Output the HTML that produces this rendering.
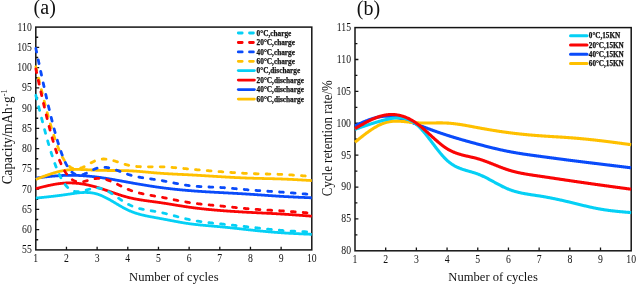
<!DOCTYPE html>
<html><head><meta charset="utf-8"><style>
html,body{margin:0;padding:0;background:#fff;width:637px;height:285px;overflow:hidden}
svg{display:block;will-change:transform}
text{font-family:"Liberation Serif",serif;fill:#111}
</style></head><body>
<svg width="637" height="285" viewBox="0 0 637 285">
<defs>
<clipPath id="ca"><rect x="34.20" y="27.10" width="278.20" height="222.80"/></clipPath>
<clipPath id="cb"><rect x="353.40" y="27.60" width="278.40" height="223.20"/></clipPath>
</defs>
<rect x="35.80" y="27.10" width="276.00" height="222.80" fill="none" stroke="#141414" stroke-width="1.50"/>
<path d="M35.80,239.77h2.40M35.80,229.65h3.40M35.80,219.52h2.40M35.80,209.39h3.40M35.80,199.26h2.40M35.80,189.14h3.40M35.80,179.01h2.40M35.80,168.88h3.40M35.80,158.75h2.40M35.80,148.63h3.40M35.80,138.50h2.40M35.80,128.37h3.40M35.80,118.25h2.40M35.80,108.12h3.40M35.80,97.99h2.40M35.80,87.86h3.40M35.80,77.74h2.40M35.80,67.61h3.40M35.80,57.48h2.40M35.80,47.35h3.40M35.80,37.23h2.40M66.47,249.90v-3.2M97.13,249.90v-3.2M127.80,249.90v-3.2M158.47,249.90v-3.2M189.13,249.90v-3.2M219.80,249.90v-3.2M250.47,249.90v-3.2M281.13,249.90v-3.2" stroke="#141414" stroke-width="1.3" fill="none"/>
<rect x="355.00" y="27.60" width="276.20" height="223.20" fill="none" stroke="#141414" stroke-width="1.50"/>
<path d="M355.00,234.86h2.40M355.00,218.91h3.40M355.00,202.97h2.40M355.00,187.03h3.40M355.00,171.09h2.40M355.00,155.14h3.40M355.00,139.20h2.40M355.00,123.26h3.40M355.00,107.31h2.40M355.00,91.37h3.40M355.00,75.43h2.40M355.00,59.49h3.40M355.00,43.54h2.40M385.69,250.80v-3.2M416.38,250.80v-3.2M447.07,250.80v-3.2M477.76,250.80v-3.2M508.44,250.80v-3.2M539.13,250.80v-3.2M569.82,250.80v-3.2M600.51,250.80v-3.2" stroke="#141414" stroke-width="1.3" fill="none"/>
<g clip-path="url(#ca)" fill="none" stroke-linejoin="round">
<path d="M35.80,198.10L36.30,198.05 36.80,198.00 37.30,197.95 37.80,197.89 38.30,197.84 38.80,197.79 39.30,197.74 39.80,197.69 40.30,197.64 40.80,197.59 41.30,197.54 41.80,197.49 42.30,197.44 42.80,197.38 43.30,197.33 43.80,197.28 44.30,197.23 44.80,197.17 45.30,197.12 45.80,197.07 46.30,197.02 46.80,196.96 47.30,196.91 47.80,196.85 48.30,196.80 48.80,196.75 49.30,196.69 49.80,196.64 50.30,196.58 50.80,196.52 51.30,196.47 51.80,196.41 52.30,196.35 52.80,196.30 53.30,196.24 53.80,196.18 54.30,196.12 54.80,196.06 55.30,196.00 55.80,195.94 56.30,195.88 56.80,195.82 57.30,195.76 57.80,195.70 58.30,195.63 58.80,195.57 59.30,195.50 59.80,195.44 60.30,195.37 60.80,195.31 61.30,195.24 61.80,195.18 62.30,195.11 62.80,195.04 63.30,194.97 63.80,194.90 64.30,194.83 64.80,194.76 65.30,194.69 65.80,194.61 66.30,194.54 66.80,194.47 67.30,194.39 67.80,194.32 68.30,194.24 68.80,194.16 69.30,194.09 69.80,194.01 70.30,193.94 70.80,193.86 71.30,193.79 71.80,193.71 72.30,193.64 72.80,193.56 73.30,193.49 73.80,193.42 74.30,193.35 74.80,193.29 75.30,193.22 75.80,193.16 76.30,193.09 76.80,193.03 77.30,192.97 77.80,192.92 78.30,192.87 78.80,192.81 79.30,192.77 79.80,192.72 80.30,192.68 80.80,192.64 81.30,192.61 81.80,192.57 82.30,192.55 82.80,192.52 83.30,192.50 83.80,192.48 84.30,192.47 84.80,192.46 85.30,192.46 85.80,192.46 86.30,192.47 86.80,192.48 87.30,192.50 87.80,192.52 88.30,192.54 88.80,192.58 89.30,192.61 89.80,192.66 90.30,192.71 90.80,192.76 91.30,192.82 91.80,192.89 92.30,192.97 92.80,193.05 93.30,193.14 93.80,193.23 94.30,193.33 94.80,193.44 95.30,193.56 95.80,193.68 96.30,193.82 96.80,193.96 97.30,194.10 97.80,194.26 98.30,194.42 98.80,194.59 99.30,194.77 99.80,194.96 100.30,195.15 100.80,195.35 101.30,195.56 101.80,195.77 102.30,195.98 102.80,196.21 103.30,196.44 103.80,196.67 104.30,196.91 104.80,197.16 105.30,197.41 105.80,197.66 106.30,197.92 106.80,198.18 107.30,198.45 107.80,198.71 108.30,198.99 108.80,199.26 109.30,199.54 109.80,199.83 110.30,200.11 110.80,200.40 111.30,200.69 111.80,200.98 112.30,201.27 112.80,201.56 113.30,201.86 113.80,202.16 114.30,202.45 114.80,202.75 115.30,203.05 115.80,203.35 116.30,203.65 116.80,203.94 117.30,204.24 117.80,204.54 118.30,204.83 118.80,205.13 119.30,205.42 119.80,205.71 120.30,206.01 120.80,206.29 121.30,206.58 121.80,206.86 122.30,207.14 122.80,207.42 123.30,207.70 123.80,207.97 124.30,208.24 124.80,208.50 125.30,208.76 125.80,209.02 126.30,209.27 126.80,209.52 127.30,209.76 127.80,210.00 128.30,210.23 128.80,210.46 129.30,210.68 129.80,210.90 130.30,211.11 130.80,211.32 131.30,211.52 131.80,211.72 132.30,211.91 132.80,212.10 133.30,212.28 133.80,212.47 134.30,212.64 134.80,212.81 135.30,212.98 135.80,213.15 136.30,213.31 136.80,213.47 137.30,213.62 137.80,213.77 138.30,213.92 138.80,214.06 139.30,214.20 139.80,214.34 140.30,214.48 140.80,214.61 141.30,214.74 141.80,214.86 142.30,214.99 142.80,215.11 143.30,215.23 143.80,215.34 144.30,215.46 144.80,215.57 145.30,215.68 145.80,215.79 146.30,215.89 146.80,216.00 147.30,216.10 147.80,216.20 148.30,216.30 148.80,216.40 149.30,216.50 149.80,216.60 150.30,216.69 150.80,216.78 151.30,216.88 151.80,216.97 152.30,217.06 152.80,217.15 153.30,217.24 153.80,217.33 154.30,217.42 154.80,217.51 155.30,217.60 155.80,217.69 156.30,217.78 156.80,217.87 157.30,217.96 157.80,218.05 158.30,218.14 158.80,218.23 159.30,218.32 159.80,218.42 160.30,218.51 160.80,218.60 161.30,218.69 161.80,218.79 162.30,218.88 162.80,218.98 163.30,219.07 163.80,219.17 164.30,219.26 164.80,219.36 165.30,219.45 165.80,219.55 166.30,219.65 166.80,219.74 167.30,219.84 167.80,219.93 168.30,220.03 168.80,220.13 169.30,220.22 169.80,220.32 170.30,220.42 170.80,220.51 171.30,220.61 171.80,220.70 172.30,220.80 172.80,220.89 173.30,220.99 173.80,221.08 174.30,221.18 174.80,221.27 175.30,221.36 175.80,221.46 176.30,221.55 176.80,221.64 177.30,221.73 177.80,221.82 178.30,221.91 178.80,222.00 179.30,222.09 179.80,222.18 180.30,222.27 180.80,222.36 181.30,222.44 181.80,222.53 182.30,222.61 182.80,222.70 183.30,222.78 183.80,222.86 184.30,222.94 184.80,223.02 185.30,223.10 185.80,223.18 186.30,223.26 186.80,223.33 187.30,223.41 187.80,223.48 188.30,223.56 188.80,223.63 189.30,223.70 189.80,223.77 190.30,223.84 190.80,223.90 191.30,223.97 191.80,224.03 192.30,224.10 192.80,224.16 193.30,224.22 193.80,224.28 194.30,224.34 194.80,224.40 195.30,224.46 195.80,224.51 196.30,224.57 196.80,224.62 197.30,224.68 197.80,224.73 198.30,224.78 198.80,224.84 199.30,224.89 199.80,224.94 200.30,224.99 200.80,225.04 201.30,225.09 201.80,225.13 202.30,225.18 202.80,225.23 203.30,225.28 203.80,225.32 204.30,225.37 204.80,225.41 205.30,225.46 205.80,225.50 206.30,225.55 206.80,225.59 207.30,225.63 207.80,225.68 208.30,225.72 208.80,225.76 209.30,225.81 209.80,225.85 210.30,225.89 210.80,225.93 211.30,225.98 211.80,226.02 212.30,226.06 212.80,226.11 213.30,226.15 213.80,226.19 214.30,226.23 214.80,226.28 215.30,226.32 215.80,226.36 216.30,226.41 216.80,226.45 217.30,226.49 217.80,226.54 218.30,226.58 218.80,226.63 219.30,226.67 219.80,226.72 220.30,226.77 220.80,226.81 221.30,226.86 221.80,226.91 222.30,226.96 222.80,227.00 223.30,227.05 223.80,227.10 224.30,227.15 224.80,227.20 225.30,227.25 225.80,227.30 226.30,227.35 226.80,227.40 227.30,227.46 227.80,227.51 228.30,227.56 228.80,227.61 229.30,227.66 229.80,227.72 230.30,227.77 230.80,227.82 231.30,227.88 231.80,227.93 232.30,227.98 232.80,228.04 233.30,228.09 233.80,228.15 234.30,228.20 234.80,228.26 235.30,228.31 235.80,228.36 236.30,228.42 236.80,228.47 237.30,228.53 237.80,228.59 238.30,228.64 238.80,228.70 239.30,228.75 239.80,228.81 240.30,228.86 240.80,228.92 241.30,228.97 241.80,229.03 242.30,229.08 242.80,229.14 243.30,229.19 243.80,229.25 244.30,229.31 244.80,229.36 245.30,229.42 245.80,229.47 246.30,229.53 246.80,229.58 247.30,229.63 247.80,229.69 248.30,229.74 248.80,229.80 249.30,229.85 249.80,229.91 250.30,229.96 250.80,230.01 251.30,230.07 251.80,230.12 252.30,230.17 252.80,230.23 253.30,230.28 253.80,230.33 254.30,230.38 254.80,230.43 255.30,230.49 255.80,230.54 256.30,230.59 256.80,230.64 257.30,230.69 257.80,230.74 258.30,230.79 258.80,230.84 259.30,230.89 259.80,230.94 260.30,230.99 260.80,231.04 261.30,231.09 261.80,231.13 262.30,231.18 262.80,231.23 263.30,231.28 263.80,231.32 264.30,231.37 264.80,231.42 265.30,231.46 265.80,231.51 266.30,231.56 266.80,231.60 267.30,231.65 267.80,231.69 268.30,231.73 268.80,231.78 269.30,231.82 269.80,231.87 270.30,231.91 270.80,231.95 271.30,231.99 271.80,232.03 272.30,232.08 272.80,232.12 273.30,232.16 273.80,232.20 274.30,232.24 274.80,232.28 275.30,232.32 275.80,232.36 276.30,232.40 276.80,232.43 277.30,232.47 277.80,232.51 278.30,232.55 278.80,232.58 279.30,232.62 279.80,232.65 280.30,232.69 280.80,232.72 281.30,232.76 281.80,232.79 282.30,232.83 282.80,232.86 283.30,232.89 283.80,232.92 284.30,232.96 284.80,232.99 285.30,233.02 285.80,233.05 286.30,233.08 286.80,233.11 287.30,233.14 287.80,233.17 288.30,233.20 288.80,233.23 289.30,233.26 289.80,233.29 290.30,233.31 290.80,233.34 291.30,233.37 291.80,233.39 292.30,233.42 292.80,233.45 293.30,233.47 293.80,233.50 294.30,233.53 294.80,233.55 295.30,233.58 295.80,233.60 296.30,233.63 296.80,233.65 297.30,233.68 297.80,233.70 298.30,233.72 298.80,233.75 299.30,233.77 299.80,233.79 300.30,233.82 300.80,233.84 301.30,233.86 301.80,233.89 302.30,233.91 302.80,233.93 303.30,233.95 303.80,233.98 304.30,234.00 304.80,234.02 305.30,234.04 305.80,234.06 306.30,234.09 306.80,234.11 307.30,234.13 307.80,234.15 308.30,234.17 308.80,234.19 309.30,234.21 309.80,234.24 310.30,234.26 310.80,234.28 311.30,234.30 311.80,234.32" stroke="#05D0F5" stroke-width="2.80"/>
<path d="M35.80,188.64L36.30,188.51 36.80,188.38 37.30,188.26 37.80,188.13 38.30,188.00 38.80,187.88 39.30,187.75 39.80,187.62 40.30,187.50 40.80,187.37 41.30,187.25 41.80,187.12 42.30,187.00 42.80,186.88 43.30,186.75 43.80,186.63 44.30,186.51 44.80,186.39 45.30,186.28 45.80,186.16 46.30,186.04 46.80,185.93 47.30,185.82 47.80,185.70 48.30,185.59 48.80,185.48 49.30,185.38 49.80,185.27 50.30,185.16 50.80,185.06 51.30,184.96 51.80,184.86 52.30,184.76 52.80,184.67 53.30,184.57 53.80,184.48 54.30,184.39 54.80,184.30 55.30,184.22 55.80,184.13 56.30,184.05 56.80,183.97 57.30,183.90 57.80,183.82 58.30,183.75 58.80,183.68 59.30,183.62 59.80,183.55 60.30,183.49 60.80,183.44 61.30,183.38 61.80,183.33 62.30,183.28 62.80,183.23 63.30,183.19 63.80,183.15 64.30,183.11 64.80,183.08 65.30,183.05 65.80,183.02 66.30,183.00 66.80,182.98 67.30,182.96 67.80,182.95 68.30,182.94 68.80,182.93 69.30,182.93 69.80,182.93 70.30,182.93 70.80,182.94 71.30,182.95 71.80,182.96 72.30,182.98 72.80,183.00 73.30,183.03 73.80,183.05 74.30,183.08 74.80,183.11 75.30,183.15 75.80,183.19 76.30,183.23 76.80,183.27 77.30,183.32 77.80,183.37 78.30,183.43 78.80,183.48 79.30,183.54 79.80,183.61 80.30,183.67 80.80,183.74 81.30,183.81 81.80,183.88 82.30,183.96 82.80,184.04 83.30,184.12 83.80,184.21 84.30,184.29 84.80,184.38 85.30,184.48 85.80,184.57 86.30,184.67 86.80,184.77 87.30,184.87 87.80,184.97 88.30,185.08 88.80,185.19 89.30,185.30 89.80,185.42 90.30,185.54 90.80,185.66 91.30,185.78 91.80,185.90 92.30,186.03 92.80,186.16 93.30,186.29 93.80,186.42 94.30,186.55 94.80,186.69 95.30,186.83 95.80,186.97 96.30,187.11 96.80,187.26 97.30,187.41 97.80,187.56 98.30,187.71 98.80,187.86 99.30,188.01 99.80,188.17 100.30,188.33 100.80,188.49 101.30,188.65 101.80,188.81 102.30,188.97 102.80,189.14 103.30,189.31 103.80,189.47 104.30,189.64 104.80,189.81 105.30,189.98 105.80,190.15 106.30,190.32 106.80,190.49 107.30,190.67 107.80,190.84 108.30,191.01 108.80,191.18 109.30,191.36 109.80,191.53 110.30,191.71 110.80,191.88 111.30,192.05 111.80,192.23 112.30,192.40 112.80,192.58 113.30,192.75 113.80,192.92 114.30,193.09 114.80,193.27 115.30,193.44 115.80,193.61 116.30,193.78 116.80,193.94 117.30,194.11 117.80,194.28 118.30,194.44 118.80,194.61 119.30,194.77 119.80,194.93 120.30,195.09 120.80,195.25 121.30,195.41 121.80,195.57 122.30,195.72 122.80,195.87 123.30,196.02 123.80,196.17 124.30,196.32 124.80,196.46 125.30,196.60 125.80,196.74 126.30,196.88 126.80,197.02 127.30,197.15 127.80,197.28 128.30,197.41 128.80,197.53 129.30,197.66 129.80,197.78 130.30,197.89 130.80,198.01 131.30,198.12 131.80,198.23 132.30,198.34 132.80,198.45 133.30,198.55 133.80,198.66 134.30,198.76 134.80,198.86 135.30,198.95 135.80,199.05 136.30,199.14 136.80,199.23 137.30,199.32 137.80,199.41 138.30,199.50 138.80,199.59 139.30,199.67 139.80,199.75 140.30,199.84 140.80,199.92 141.30,199.99 141.80,200.07 142.30,200.15 142.80,200.23 143.30,200.30 143.80,200.37 144.30,200.45 144.80,200.52 145.30,200.59 145.80,200.66 146.30,200.73 146.80,200.80 147.30,200.87 147.80,200.94 148.30,201.01 148.80,201.08 149.30,201.14 149.80,201.21 150.30,201.28 150.80,201.34 151.30,201.41 151.80,201.48 152.30,201.54 152.80,201.61 153.30,201.68 153.80,201.74 154.30,201.81 154.80,201.88 155.30,201.94 155.80,202.01 156.30,202.08 156.80,202.15 157.30,202.22 157.80,202.29 158.30,202.36 158.80,202.43 159.30,202.50 159.80,202.57 160.30,202.65 160.80,202.72 161.30,202.79 161.80,202.87 162.30,202.94 162.80,203.02 163.30,203.10 163.80,203.17 164.30,203.25 164.80,203.33 165.30,203.41 165.80,203.49 166.30,203.56 166.80,203.64 167.30,203.72 167.80,203.80 168.30,203.88 168.80,203.96 169.30,204.04 169.80,204.13 170.30,204.21 170.80,204.29 171.30,204.37 171.80,204.45 172.30,204.53 172.80,204.61 173.30,204.70 173.80,204.78 174.30,204.86 174.80,204.94 175.30,205.02 175.80,205.10 176.30,205.18 176.80,205.27 177.30,205.35 177.80,205.43 178.30,205.51 178.80,205.59 179.30,205.67 179.80,205.75 180.30,205.83 180.80,205.91 181.30,205.99 181.80,206.07 182.30,206.15 182.80,206.23 183.30,206.30 183.80,206.38 184.30,206.46 184.80,206.53 185.30,206.61 185.80,206.69 186.30,206.76 186.80,206.84 187.30,206.91 187.80,206.98 188.30,207.05 188.80,207.13 189.30,207.20 189.80,207.27 190.30,207.34 190.80,207.41 191.30,207.48 191.80,207.54 192.30,207.61 192.80,207.68 193.30,207.74 193.80,207.81 194.30,207.87 194.80,207.94 195.30,208.00 195.80,208.06 196.30,208.12 196.80,208.18 197.30,208.25 197.80,208.31 198.30,208.36 198.80,208.42 199.30,208.48 199.80,208.54 200.30,208.60 200.80,208.65 201.30,208.71 201.80,208.77 202.30,208.82 202.80,208.88 203.30,208.93 203.80,208.98 204.30,209.04 204.80,209.09 205.30,209.14 205.80,209.19 206.30,209.24 206.80,209.29 207.30,209.34 207.80,209.39 208.30,209.44 208.80,209.49 209.30,209.54 209.80,209.59 210.30,209.63 210.80,209.68 211.30,209.73 211.80,209.77 212.30,209.82 212.80,209.86 213.30,209.91 213.80,209.95 214.30,210.00 214.80,210.04 215.30,210.08 215.80,210.13 216.30,210.17 216.80,210.21 217.30,210.25 217.80,210.29 218.30,210.34 218.80,210.38 219.30,210.42 219.80,210.46 220.30,210.50 220.80,210.54 221.30,210.57 221.80,210.61 222.30,210.65 222.80,210.69 223.30,210.73 223.80,210.77 224.30,210.80 224.80,210.84 225.30,210.88 225.80,210.91 226.30,210.95 226.80,210.99 227.30,211.02 227.80,211.06 228.30,211.09 228.80,211.13 229.30,211.16 229.80,211.20 230.30,211.23 230.80,211.26 231.30,211.30 231.80,211.33 232.30,211.36 232.80,211.40 233.30,211.43 233.80,211.46 234.30,211.49 234.80,211.52 235.30,211.56 235.80,211.59 236.30,211.62 236.80,211.65 237.30,211.68 237.80,211.71 238.30,211.74 238.80,211.77 239.30,211.80 239.80,211.83 240.30,211.86 240.80,211.89 241.30,211.92 241.80,211.95 242.30,211.98 242.80,212.00 243.30,212.03 243.80,212.06 244.30,212.09 244.80,212.12 245.30,212.14 245.80,212.17 246.30,212.20 246.80,212.23 247.30,212.25 247.80,212.28 248.30,212.31 248.80,212.33 249.30,212.36 249.80,212.39 250.30,212.41 250.80,212.44 251.30,212.46 251.80,212.49 252.30,212.51 252.80,212.54 253.30,212.57 253.80,212.59 254.30,212.62 254.80,212.64 255.30,212.67 255.80,212.69 256.30,212.71 256.80,212.74 257.30,212.76 257.80,212.79 258.30,212.81 258.80,212.84 259.30,212.86 259.80,212.89 260.30,212.91 260.80,212.94 261.30,212.96 261.80,212.98 262.30,213.01 262.80,213.03 263.30,213.06 263.80,213.08 264.30,213.11 264.80,213.13 265.30,213.16 265.80,213.18 266.30,213.21 266.80,213.23 267.30,213.26 267.80,213.28 268.30,213.31 268.80,213.33 269.30,213.36 269.80,213.38 270.30,213.41 270.80,213.43 271.30,213.46 271.80,213.48 272.30,213.51 272.80,213.54 273.30,213.56 273.80,213.59 274.30,213.62 274.80,213.64 275.30,213.67 275.80,213.70 276.30,213.73 276.80,213.75 277.30,213.78 277.80,213.81 278.30,213.84 278.80,213.87 279.30,213.90 279.80,213.93 280.30,213.95 280.80,213.98 281.30,214.01 281.80,214.04 282.30,214.07 282.80,214.11 283.30,214.14 283.80,214.17 284.30,214.20 284.80,214.23 285.30,214.26 285.80,214.30 286.30,214.33 286.80,214.36 287.30,214.39 287.80,214.43 288.30,214.46 288.80,214.49 289.30,214.53 289.80,214.56 290.30,214.60 290.80,214.63 291.30,214.66 291.80,214.70 292.30,214.73 292.80,214.77 293.30,214.80 293.80,214.84 294.30,214.88 294.80,214.91 295.30,214.95 295.80,214.98 296.30,215.02 296.80,215.06 297.30,215.09 297.80,215.13 298.30,215.17 298.80,215.20 299.30,215.24 299.80,215.28 300.30,215.31 300.80,215.35 301.30,215.39 301.80,215.43 302.30,215.46 302.80,215.50 303.30,215.54 303.80,215.58 304.30,215.61 304.80,215.65 305.30,215.69 305.80,215.73 306.30,215.77 306.80,215.80 307.30,215.84 307.80,215.88 308.30,215.92 308.80,215.96 309.30,216.00 309.80,216.03 310.30,216.07 310.80,216.11 311.30,216.15 311.80,216.19" stroke="#FA0505" stroke-width="2.80"/>
<path d="M35.80,178.01L36.30,177.95 36.80,177.89 37.30,177.83 37.80,177.78 38.30,177.72 38.80,177.66 39.30,177.60 39.80,177.54 40.30,177.49 40.80,177.43 41.30,177.37 41.80,177.32 42.30,177.26 42.80,177.20 43.30,177.15 43.80,177.09 44.30,177.04 44.80,176.98 45.30,176.93 45.80,176.88 46.30,176.82 46.80,176.77 47.30,176.72 47.80,176.67 48.30,176.61 48.80,176.56 49.30,176.51 49.80,176.47 50.30,176.42 50.80,176.37 51.30,176.32 51.80,176.28 52.30,176.23 52.80,176.19 53.30,176.14 53.80,176.10 54.30,176.06 54.80,176.02 55.30,175.97 55.80,175.94 56.30,175.90 56.80,175.86 57.30,175.82 57.80,175.79 58.30,175.75 58.80,175.72 59.30,175.69 59.80,175.66 60.30,175.63 60.80,175.60 61.30,175.57 61.80,175.55 62.30,175.52 62.80,175.50 63.30,175.47 63.80,175.45 64.30,175.43 64.80,175.42 65.30,175.40 65.80,175.38 66.30,175.37 66.80,175.36 67.30,175.35 67.80,175.34 68.30,175.33 68.80,175.32 69.30,175.32 69.80,175.31 70.30,175.31 70.80,175.31 71.30,175.31 71.80,175.31 72.30,175.32 72.80,175.32 73.30,175.33 73.80,175.34 74.30,175.35 74.80,175.36 75.30,175.37 75.80,175.38 76.30,175.40 76.80,175.41 77.30,175.43 77.80,175.45 78.30,175.47 78.80,175.49 79.30,175.51 79.80,175.53 80.30,175.56 80.80,175.59 81.30,175.61 81.80,175.64 82.30,175.67 82.80,175.70 83.30,175.73 83.80,175.77 84.30,175.80 84.80,175.84 85.30,175.88 85.80,175.92 86.30,175.95 86.80,176.00 87.30,176.04 87.80,176.08 88.30,176.13 88.80,176.17 89.30,176.22 89.80,176.27 90.30,176.31 90.80,176.36 91.30,176.41 91.80,176.47 92.30,176.52 92.80,176.57 93.30,176.63 93.80,176.69 94.30,176.74 94.80,176.80 95.30,176.86 95.80,176.92 96.30,176.98 96.80,177.05 97.30,177.11 97.80,177.18 98.30,177.24 98.80,177.31 99.30,177.38 99.80,177.44 100.30,177.51 100.80,177.58 101.30,177.65 101.80,177.73 102.30,177.80 102.80,177.87 103.30,177.95 103.80,178.02 104.30,178.10 104.80,178.18 105.30,178.25 105.80,178.33 106.30,178.41 106.80,178.49 107.30,178.57 107.80,178.65 108.30,178.73 108.80,178.81 109.30,178.90 109.80,178.98 110.30,179.06 110.80,179.15 111.30,179.23 111.80,179.32 112.30,179.40 112.80,179.49 113.30,179.58 113.80,179.66 114.30,179.75 114.80,179.84 115.30,179.93 115.80,180.01 116.30,180.10 116.80,180.19 117.30,180.28 117.80,180.37 118.30,180.46 118.80,180.55 119.30,180.64 119.80,180.73 120.30,180.82 120.80,180.91 121.30,181.00 121.80,181.09 122.30,181.18 122.80,181.27 123.30,181.37 123.80,181.46 124.30,181.55 124.80,181.64 125.30,181.73 125.80,181.82 126.30,181.91 126.80,182.00 127.30,182.09 127.80,182.19 128.30,182.28 128.80,182.37 129.30,182.46 129.80,182.55 130.30,182.64 130.80,182.73 131.30,182.82 131.80,182.91 132.30,183.00 132.80,183.08 133.30,183.17 133.80,183.26 134.30,183.35 134.80,183.44 135.30,183.53 135.80,183.61 136.30,183.70 136.80,183.79 137.30,183.88 137.80,183.96 138.30,184.05 138.80,184.14 139.30,184.22 139.80,184.31 140.30,184.39 140.80,184.48 141.30,184.56 141.80,184.65 142.30,184.73 142.80,184.82 143.30,184.90 143.80,184.98 144.30,185.07 144.80,185.15 145.30,185.23 145.80,185.31 146.30,185.39 146.80,185.48 147.30,185.56 147.80,185.64 148.30,185.72 148.80,185.80 149.30,185.87 149.80,185.95 150.30,186.03 150.80,186.11 151.30,186.19 151.80,186.26 152.30,186.34 152.80,186.42 153.30,186.49 153.80,186.57 154.30,186.64 154.80,186.71 155.30,186.79 155.80,186.86 156.30,186.93 156.80,187.01 157.30,187.08 157.80,187.15 158.30,187.22 158.80,187.29 159.30,187.36 159.80,187.43 160.30,187.49 160.80,187.56 161.30,187.63 161.80,187.70 162.30,187.76 162.80,187.83 163.30,187.89 163.80,187.96 164.30,188.02 164.80,188.08 165.30,188.15 165.80,188.21 166.30,188.27 166.80,188.33 167.30,188.39 167.80,188.45 168.30,188.51 168.80,188.57 169.30,188.63 169.80,188.69 170.30,188.75 170.80,188.80 171.30,188.86 171.80,188.92 172.30,188.97 172.80,189.03 173.30,189.08 173.80,189.14 174.30,189.19 174.80,189.25 175.30,189.30 175.80,189.35 176.30,189.40 176.80,189.46 177.30,189.51 177.80,189.56 178.30,189.61 178.80,189.66 179.30,189.71 179.80,189.76 180.30,189.80 180.80,189.85 181.30,189.90 181.80,189.95 182.30,189.99 182.80,190.04 183.30,190.08 183.80,190.13 184.30,190.18 184.80,190.22 185.30,190.26 185.80,190.31 186.30,190.35 186.80,190.39 187.30,190.44 187.80,190.48 188.30,190.52 188.80,190.56 189.30,190.60 189.80,190.64 190.30,190.68 190.80,190.72 191.30,190.76 191.80,190.80 192.30,190.84 192.80,190.88 193.30,190.91 193.80,190.95 194.30,190.99 194.80,191.03 195.30,191.06 195.80,191.10 196.30,191.13 196.80,191.17 197.30,191.20 197.80,191.24 198.30,191.27 198.80,191.31 199.30,191.34 199.80,191.37 200.30,191.41 200.80,191.44 201.30,191.47 201.80,191.51 202.30,191.54 202.80,191.57 203.30,191.60 203.80,191.63 204.30,191.66 204.80,191.70 205.30,191.73 205.80,191.76 206.30,191.79 206.80,191.82 207.30,191.85 207.80,191.88 208.30,191.91 208.80,191.94 209.30,191.97 209.80,191.99 210.30,192.02 210.80,192.05 211.30,192.08 211.80,192.11 212.30,192.14 212.80,192.17 213.30,192.19 213.80,192.22 214.30,192.25 214.80,192.28 215.30,192.30 215.80,192.33 216.30,192.36 216.80,192.39 217.30,192.41 217.80,192.44 218.30,192.47 218.80,192.49 219.30,192.52 219.80,192.55 220.30,192.57 220.80,192.60 221.30,192.63 221.80,192.65 222.30,192.68 222.80,192.71 223.30,192.73 223.80,192.76 224.30,192.79 224.80,192.81 225.30,192.84 225.80,192.87 226.30,192.89 226.80,192.92 227.30,192.95 227.80,192.97 228.30,193.00 228.80,193.03 229.30,193.05 229.80,193.08 230.30,193.11 230.80,193.13 231.30,193.16 231.80,193.19 232.30,193.21 232.80,193.24 233.30,193.27 233.80,193.29 234.30,193.32 234.80,193.35 235.30,193.38 235.80,193.40 236.30,193.43 236.80,193.46 237.30,193.49 237.80,193.52 238.30,193.54 238.80,193.57 239.30,193.60 239.80,193.63 240.30,193.66 240.80,193.68 241.30,193.71 241.80,193.74 242.30,193.77 242.80,193.80 243.30,193.83 243.80,193.86 244.30,193.89 244.80,193.92 245.30,193.95 245.80,193.98 246.30,194.01 246.80,194.04 247.30,194.07 247.80,194.10 248.30,194.13 248.80,194.16 249.30,194.20 249.80,194.23 250.30,194.26 250.80,194.29 251.30,194.32 251.80,194.36 252.30,194.39 252.80,194.42 253.30,194.46 253.80,194.49 254.30,194.52 254.80,194.56 255.30,194.59 255.80,194.62 256.30,194.66 256.80,194.69 257.30,194.73 257.80,194.76 258.30,194.80 258.80,194.83 259.30,194.87 259.80,194.90 260.30,194.94 260.80,194.97 261.30,195.01 261.80,195.04 262.30,195.08 262.80,195.11 263.30,195.15 263.80,195.18 264.30,195.22 264.80,195.25 265.30,195.29 265.80,195.32 266.30,195.36 266.80,195.39 267.30,195.43 267.80,195.46 268.30,195.50 268.80,195.53 269.30,195.57 269.80,195.60 270.30,195.64 270.80,195.67 271.30,195.71 271.80,195.74 272.30,195.77 272.80,195.81 273.30,195.84 273.80,195.87 274.30,195.91 274.80,195.94 275.30,195.97 275.80,196.01 276.30,196.04 276.80,196.07 277.30,196.10 277.80,196.14 278.30,196.17 278.80,196.20 279.30,196.23 279.80,196.26 280.30,196.29 280.80,196.32 281.30,196.35 281.80,196.38 282.30,196.41 282.80,196.44 283.30,196.47 283.80,196.50 284.30,196.53 284.80,196.55 285.30,196.58 285.80,196.61 286.30,196.64 286.80,196.66 287.30,196.69 287.80,196.72 288.30,196.74 288.80,196.77 289.30,196.80 289.80,196.82 290.30,196.85 290.80,196.87 291.30,196.90 291.80,196.92 292.30,196.95 292.80,196.97 293.30,197.00 293.80,197.02 294.30,197.04 294.80,197.07 295.30,197.09 295.80,197.12 296.30,197.14 296.80,197.16 297.30,197.19 297.80,197.21 298.30,197.23 298.80,197.25 299.30,197.28 299.80,197.30 300.30,197.32 300.80,197.34 301.30,197.36 301.80,197.39 302.30,197.41 302.80,197.43 303.30,197.45 303.80,197.47 304.30,197.49 304.80,197.52 305.30,197.54 305.80,197.56 306.30,197.58 306.80,197.60 307.30,197.62 307.80,197.64 308.30,197.66 308.80,197.69 309.30,197.71 309.80,197.73 310.30,197.75 310.80,197.77 311.30,197.79 311.80,197.81" stroke="#0A4BFA" stroke-width="2.80"/>
<path d="M35.80,179.41L36.30,179.22 36.80,179.02 37.30,178.83 37.80,178.63 38.30,178.44 38.80,178.25 39.30,178.06 39.80,177.86 40.30,177.67 40.80,177.48 41.30,177.29 41.80,177.10 42.30,176.92 42.80,176.73 43.30,176.54 43.80,176.36 44.30,176.17 44.80,175.99 45.30,175.81 45.80,175.62 46.30,175.44 46.80,175.27 47.30,175.09 47.80,174.91 48.30,174.74 48.80,174.57 49.30,174.40 49.80,174.23 50.30,174.06 50.80,173.90 51.30,173.74 51.80,173.58 52.30,173.42 52.80,173.26 53.30,173.11 53.80,172.96 54.30,172.81 54.80,172.66 55.30,172.51 55.80,172.37 56.30,172.23 56.80,172.10 57.30,171.96 57.80,171.83 58.30,171.71 58.80,171.58 59.30,171.46 59.80,171.34 60.30,171.23 60.80,171.11 61.30,171.01 61.80,170.90 62.30,170.80 62.80,170.70 63.30,170.61 63.80,170.52 64.30,170.43 64.80,170.35 65.30,170.27 65.80,170.19 66.30,170.12 66.80,170.05 67.30,169.99 67.80,169.93 68.30,169.87 68.80,169.82 69.30,169.77 69.80,169.73 70.30,169.69 70.80,169.65 71.30,169.61 71.80,169.58 72.30,169.56 72.80,169.53 73.30,169.51 73.80,169.49 74.30,169.47 74.80,169.46 75.30,169.45 75.80,169.44 76.30,169.44 76.80,169.43 77.30,169.43 77.80,169.43 78.30,169.44 78.80,169.44 79.30,169.45 79.80,169.46 80.30,169.47 80.80,169.48 81.30,169.50 81.80,169.51 82.30,169.53 82.80,169.55 83.30,169.57 83.80,169.59 84.30,169.61 84.80,169.63 85.30,169.66 85.80,169.68 86.30,169.71 86.80,169.73 87.30,169.76 87.80,169.79 88.30,169.82 88.80,169.84 89.30,169.87 89.80,169.90 90.30,169.93 90.80,169.96 91.30,169.98 91.80,170.01 92.30,170.04 92.80,170.07 93.30,170.09 93.80,170.12 94.30,170.15 94.80,170.17 95.30,170.20 95.80,170.22 96.30,170.24 96.80,170.26 97.30,170.28 97.80,170.30 98.30,170.32 98.80,170.33 99.30,170.35 99.80,170.36 100.30,170.38 100.80,170.39 101.30,170.40 101.80,170.41 102.30,170.42 102.80,170.43 103.30,170.44 103.80,170.44 104.30,170.45 104.80,170.46 105.30,170.46 105.80,170.47 106.30,170.47 106.80,170.47 107.30,170.48 107.80,170.48 108.30,170.48 108.80,170.48 109.30,170.49 109.80,170.49 110.30,170.49 110.80,170.49 111.30,170.49 111.80,170.49 112.30,170.49 112.80,170.49 113.30,170.50 113.80,170.50 114.30,170.50 114.80,170.50 115.30,170.50 115.80,170.50 116.30,170.50 116.80,170.51 117.30,170.51 117.80,170.51 118.30,170.52 118.80,170.52 119.30,170.52 119.80,170.53 120.30,170.54 120.80,170.54 121.30,170.55 121.80,170.56 122.30,170.57 122.80,170.57 123.30,170.59 123.80,170.60 124.30,170.61 124.80,170.62 125.30,170.64 125.80,170.65 126.30,170.67 126.80,170.68 127.30,170.70 127.80,170.72 128.30,170.74 128.80,170.76 129.30,170.79 129.80,170.81 130.30,170.84 130.80,170.86 131.30,170.89 131.80,170.92 132.30,170.95 132.80,170.98 133.30,171.01 133.80,171.05 134.30,171.08 134.80,171.11 135.30,171.15 135.80,171.18 136.30,171.22 136.80,171.26 137.30,171.30 137.80,171.34 138.30,171.37 138.80,171.41 139.30,171.45 139.80,171.50 140.30,171.54 140.80,171.58 141.30,171.62 141.80,171.66 142.30,171.71 142.80,171.75 143.30,171.80 143.80,171.84 144.30,171.88 144.80,171.93 145.30,171.97 145.80,172.02 146.30,172.06 146.80,172.11 147.30,172.15 147.80,172.20 148.30,172.25 148.80,172.29 149.30,172.34 149.80,172.38 150.30,172.43 150.80,172.47 151.30,172.52 151.80,172.56 152.30,172.60 152.80,172.65 153.30,172.69 153.80,172.74 154.30,172.78 154.80,172.82 155.30,172.86 155.80,172.91 156.30,172.95 156.80,172.99 157.30,173.03 157.80,173.07 158.30,173.11 158.80,173.14 159.30,173.18 159.80,173.22 160.30,173.26 160.80,173.29 161.30,173.33 161.80,173.36 162.30,173.40 162.80,173.43 163.30,173.46 163.80,173.50 164.30,173.53 164.80,173.56 165.30,173.59 165.80,173.62 166.30,173.65 166.80,173.68 167.30,173.71 167.80,173.74 168.30,173.77 168.80,173.80 169.30,173.82 169.80,173.85 170.30,173.88 170.80,173.91 171.30,173.93 171.80,173.96 172.30,173.99 172.80,174.01 173.30,174.04 173.80,174.06 174.30,174.09 174.80,174.11 175.30,174.14 175.80,174.16 176.30,174.19 176.80,174.21 177.30,174.24 177.80,174.26 178.30,174.28 178.80,174.31 179.30,174.33 179.80,174.36 180.30,174.38 180.80,174.40 181.30,174.43 181.80,174.45 182.30,174.48 182.80,174.50 183.30,174.52 183.80,174.55 184.30,174.57 184.80,174.60 185.30,174.62 185.80,174.65 186.30,174.67 186.80,174.70 187.30,174.72 187.80,174.75 188.30,174.77 188.80,174.80 189.30,174.82 189.80,174.85 190.30,174.88 190.80,174.90 191.30,174.93 191.80,174.96 192.30,174.99 192.80,175.01 193.30,175.04 193.80,175.07 194.30,175.10 194.80,175.13 195.30,175.16 195.80,175.18 196.30,175.21 196.80,175.24 197.30,175.27 197.80,175.30 198.30,175.33 198.80,175.36 199.30,175.39 199.80,175.42 200.30,175.45 200.80,175.48 201.30,175.51 201.80,175.54 202.30,175.57 202.80,175.60 203.30,175.64 203.80,175.67 204.30,175.70 204.80,175.73 205.30,175.76 205.80,175.79 206.30,175.82 206.80,175.85 207.30,175.88 207.80,175.92 208.30,175.95 208.80,175.98 209.30,176.01 209.80,176.04 210.30,176.07 210.80,176.10 211.30,176.14 211.80,176.17 212.30,176.20 212.80,176.23 213.30,176.26 213.80,176.29 214.30,176.32 214.80,176.36 215.30,176.39 215.80,176.42 216.30,176.45 216.80,176.48 217.30,176.51 217.80,176.54 218.30,176.57 218.80,176.60 219.30,176.63 219.80,176.66 220.30,176.69 220.80,176.72 221.30,176.75 221.80,176.78 222.30,176.81 222.80,176.84 223.30,176.87 223.80,176.90 224.30,176.93 224.80,176.96 225.30,176.99 225.80,177.02 226.30,177.05 226.80,177.08 227.30,177.10 227.80,177.13 228.30,177.16 228.80,177.19 229.30,177.22 229.80,177.24 230.30,177.27 230.80,177.30 231.30,177.32 231.80,177.35 232.30,177.38 232.80,177.40 233.30,177.43 233.80,177.46 234.30,177.48 234.80,177.51 235.30,177.53 235.80,177.56 236.30,177.58 236.80,177.61 237.30,177.63 237.80,177.65 238.30,177.68 238.80,177.70 239.30,177.72 239.80,177.75 240.30,177.77 240.80,177.79 241.30,177.81 241.80,177.84 242.30,177.86 242.80,177.88 243.30,177.90 243.80,177.92 244.30,177.94 244.80,177.96 245.30,177.98 245.80,178.00 246.30,178.02 246.80,178.04 247.30,178.06 247.80,178.08 248.30,178.09 248.80,178.11 249.30,178.13 249.80,178.14 250.30,178.16 250.80,178.18 251.30,178.19 251.80,178.21 252.30,178.22 252.80,178.24 253.30,178.25 253.80,178.27 254.30,178.28 254.80,178.30 255.30,178.31 255.80,178.32 256.30,178.34 256.80,178.35 257.30,178.36 257.80,178.37 258.30,178.39 258.80,178.40 259.30,178.41 259.80,178.42 260.30,178.43 260.80,178.45 261.30,178.46 261.80,178.47 262.30,178.48 262.80,178.49 263.30,178.50 263.80,178.51 264.30,178.53 264.80,178.54 265.30,178.55 265.80,178.56 266.30,178.57 266.80,178.58 267.30,178.59 267.80,178.61 268.30,178.62 268.80,178.63 269.30,178.64 269.80,178.65 270.30,178.66 270.80,178.68 271.30,178.69 271.80,178.70 272.30,178.71 272.80,178.73 273.30,178.74 273.80,178.75 274.30,178.77 274.80,178.78 275.30,178.79 275.80,178.81 276.30,178.82 276.80,178.84 277.30,178.85 277.80,178.87 278.30,178.88 278.80,178.90 279.30,178.92 279.80,178.93 280.30,178.95 280.80,178.97 281.30,178.99 281.80,179.00 282.30,179.02 282.80,179.04 283.30,179.06 283.80,179.08 284.30,179.10 284.80,179.12 285.30,179.14 285.80,179.16 286.30,179.19 286.80,179.21 287.30,179.23 287.80,179.25 288.30,179.27 288.80,179.30 289.30,179.32 289.80,179.35 290.30,179.37 290.80,179.39 291.30,179.42 291.80,179.44 292.30,179.47 292.80,179.49 293.30,179.52 293.80,179.55 294.30,179.57 294.80,179.60 295.30,179.62 295.80,179.65 296.30,179.68 296.80,179.71 297.30,179.73 297.80,179.76 298.30,179.79 298.80,179.82 299.30,179.85 299.80,179.87 300.30,179.90 300.80,179.93 301.30,179.96 301.80,179.99 302.30,180.02 302.80,180.05 303.30,180.08 303.80,180.11 304.30,180.13 304.80,180.16 305.30,180.19 305.80,180.22 306.30,180.25 306.80,180.28 307.30,180.31 307.80,180.34 308.30,180.37 308.80,180.40 309.30,180.43 309.80,180.46 310.30,180.49 310.80,180.53 311.30,180.56 311.80,180.59" stroke="#FFC000" stroke-width="2.80"/>
<path d="M35.80,95.30L36.30,97.30 36.80,99.30 37.30,101.29 37.80,103.29 38.30,105.28 38.80,107.26 39.30,109.24 39.80,111.21 40.30,113.18 40.80,115.14 41.30,117.09 41.80,119.03 42.30,120.96 42.80,122.88 43.30,124.79 43.80,126.69 44.30,128.57 44.80,130.44 45.30,132.29 45.80,134.12 46.30,135.94 46.80,137.74 47.30,139.53 47.80,141.29 48.30,143.03 48.80,144.75 49.30,146.45 49.80,148.13 50.30,149.78 50.80,151.41 51.30,153.01 51.80,154.59 52.30,156.14 52.80,157.66 53.30,159.15 53.80,160.62 54.30,162.05 54.80,163.45 55.30,164.82 55.80,166.15 56.30,167.45 56.80,168.72 57.30,169.95 57.80,171.15 58.30,172.30 58.80,173.43 59.30,174.51 59.80,175.56 60.30,176.57 60.80,177.55 61.30,178.50 61.80,179.40 62.30,180.27 62.80,181.11 63.30,181.91 63.80,182.68 64.30,183.41 64.80,184.11 65.30,184.77 65.80,185.39 66.30,185.99 66.80,186.54 67.30,187.07 67.80,187.56 68.30,188.02 68.80,188.45 69.30,188.85 69.80,189.21 70.30,189.55 70.80,189.86 71.30,190.15 71.80,190.40 72.30,190.64 72.80,190.84 73.30,191.03 73.80,191.19 74.30,191.32 74.80,191.44 75.30,191.54 75.80,191.61 76.30,191.67 76.80,191.71 77.30,191.73 77.80,191.74 78.30,191.73 78.80,191.70 79.30,191.66 79.80,191.61 80.30,191.55 80.80,191.47 81.30,191.38 81.80,191.29 82.30,191.18 82.80,191.07 83.30,190.95 83.80,190.82 84.30,190.69 84.80,190.55 85.30,190.41 85.80,190.26 86.30,190.11 86.80,189.97 87.30,189.82 87.80,189.67 88.30,189.52 88.80,189.37 89.30,189.22 89.80,189.08 90.30,188.95 90.80,188.81 91.30,188.69 91.80,188.57 92.30,188.46 92.80,188.35 93.30,188.26 93.80,188.17 94.30,188.10 94.80,188.04 95.30,187.99 95.80,187.95 96.30,187.93 96.80,187.92 97.30,187.93 97.80,187.95 98.30,187.99 98.80,188.05 99.30,188.12 99.80,188.20 100.30,188.30 100.80,188.42 101.30,188.54 101.80,188.68 102.30,188.84 102.80,189.00 103.30,189.18 103.80,189.36 104.30,189.56 104.80,189.77 105.30,189.99 105.80,190.22 106.30,190.46 106.80,190.71 107.30,190.97 107.80,191.23 108.30,191.50 108.80,191.79 109.30,192.07 109.80,192.37 110.30,192.67 110.80,192.97 111.30,193.29 111.80,193.60 112.30,193.93 112.80,194.25 113.30,194.58 113.80,194.92 114.30,195.25 114.80,195.59 115.30,195.93 115.80,196.28 116.30,196.62 116.80,196.97 117.30,197.32 117.80,197.66 118.30,198.01 118.80,198.36 119.30,198.70 119.80,199.05 120.30,199.39 120.80,199.73 121.30,200.07 121.80,200.41 122.30,200.74 122.80,201.07 123.30,201.40 123.80,201.72 124.30,202.04 124.80,202.35 125.30,202.65 125.80,202.95 126.30,203.25 126.80,203.53 127.30,203.81 127.80,204.08 128.30,204.35 128.80,204.60 129.30,204.85 129.80,205.09 130.30,205.33 130.80,205.56 131.30,205.78 131.80,205.99 132.30,206.20 132.80,206.40 133.30,206.59 133.80,206.78 134.30,206.96 134.80,207.14 135.30,207.31 135.80,207.47 136.30,207.63 136.80,207.79 137.30,207.94 137.80,208.08 138.30,208.22 138.80,208.36 139.30,208.49 139.80,208.62 140.30,208.74 140.80,208.86 141.30,208.98 141.80,209.09 142.30,209.20 142.80,209.31 143.30,209.41 143.80,209.51 144.30,209.61 144.80,209.70 145.30,209.80 145.80,209.89 146.30,209.98 146.80,210.07 147.30,210.15 147.80,210.24 148.30,210.32 148.80,210.40 149.30,210.48 149.80,210.57 150.30,210.65 150.80,210.72 151.30,210.80 151.80,210.88 152.30,210.96 152.80,211.04 153.30,211.12 153.80,211.20 154.30,211.28 154.80,211.37 155.30,211.45 155.80,211.53 156.30,211.62 156.80,211.71 157.30,211.80 157.80,211.89 158.30,211.98 158.80,212.08 159.30,212.17 159.80,212.27 160.30,212.38 160.80,212.48 161.30,212.59 161.80,212.69 162.30,212.80 162.80,212.92 163.30,213.03 163.80,213.14 164.30,213.26 164.80,213.38 165.30,213.50 165.80,213.62 166.30,213.74 166.80,213.86 167.30,213.99 167.80,214.11 168.30,214.24 168.80,214.37 169.30,214.50 169.80,214.63 170.30,214.76 170.80,214.89 171.30,215.02 171.80,215.15 172.30,215.28 172.80,215.41 173.30,215.55 173.80,215.68 174.30,215.81 174.80,215.95 175.30,216.08 175.80,216.22 176.30,216.35 176.80,216.48 177.30,216.62 177.80,216.75 178.30,216.88 178.80,217.01 179.30,217.14 179.80,217.28 180.30,217.41 180.80,217.54 181.30,217.67 181.80,217.79 182.30,217.92 182.80,218.05 183.30,218.17 183.80,218.30 184.30,218.42 184.80,218.54 185.30,218.66 185.80,218.78 186.30,218.90 186.80,219.02 187.30,219.13 187.80,219.24 188.30,219.35 188.80,219.46 189.30,219.57 189.80,219.68 190.30,219.78 190.80,219.88 191.30,219.98 191.80,220.08 192.30,220.18 192.80,220.28 193.30,220.37 193.80,220.46 194.30,220.55 194.80,220.64 195.30,220.73 195.80,220.81 196.30,220.90 196.80,220.98 197.30,221.06 197.80,221.14 198.30,221.22 198.80,221.30 199.30,221.37 199.80,221.45 200.30,221.52 200.80,221.59 201.30,221.67 201.80,221.74 202.30,221.81 202.80,221.87 203.30,221.94 203.80,222.01 204.30,222.07 204.80,222.14 205.30,222.20 205.80,222.26 206.30,222.32 206.80,222.38 207.30,222.44 207.80,222.50 208.30,222.56 208.80,222.62 209.30,222.68 209.80,222.74 210.30,222.79 210.80,222.85 211.30,222.90 211.80,222.96 212.30,223.01 212.80,223.07 213.30,223.12 213.80,223.17 214.30,223.23 214.80,223.28 215.30,223.33 215.80,223.38 216.30,223.44 216.80,223.49 217.30,223.54 217.80,223.59 218.30,223.64 218.80,223.70 219.30,223.75 219.80,223.80 220.30,223.85 220.80,223.90 221.30,223.96 221.80,224.01 222.30,224.06 222.80,224.11 223.30,224.16 223.80,224.22 224.30,224.27 224.80,224.32 225.30,224.38 225.80,224.43 226.30,224.48 226.80,224.53 227.30,224.59 227.80,224.64 228.30,224.69 228.80,224.75 229.30,224.80 229.80,224.85 230.30,224.91 230.80,224.96 231.30,225.02 231.80,225.07 232.30,225.12 232.80,225.18 233.30,225.23 233.80,225.29 234.30,225.34 234.80,225.40 235.30,225.45 235.80,225.50 236.30,225.56 236.80,225.61 237.30,225.67 237.80,225.72 238.30,225.78 238.80,225.83 239.30,225.89 239.80,225.95 240.30,226.00 240.80,226.06 241.30,226.11 241.80,226.17 242.30,226.22 242.80,226.28 243.30,226.34 243.80,226.39 244.30,226.45 244.80,226.50 245.30,226.56 245.80,226.62 246.30,226.67 246.80,226.73 247.30,226.79 247.80,226.84 248.30,226.90 248.80,226.96 249.30,227.01 249.80,227.07 250.30,227.13 250.80,227.19 251.30,227.24 251.80,227.30 252.30,227.36 252.80,227.42 253.30,227.47 253.80,227.53 254.30,227.59 254.80,227.65 255.30,227.71 255.80,227.76 256.30,227.82 256.80,227.88 257.30,227.94 257.80,227.99 258.30,228.05 258.80,228.11 259.30,228.17 259.80,228.22 260.30,228.28 260.80,228.34 261.30,228.39 261.80,228.45 262.30,228.51 262.80,228.56 263.30,228.62 263.80,228.67 264.30,228.73 264.80,228.78 265.30,228.84 265.80,228.89 266.30,228.95 266.80,229.00 267.30,229.06 267.80,229.11 268.30,229.16 268.80,229.22 269.30,229.27 269.80,229.32 270.30,229.37 270.80,229.42 271.30,229.47 271.80,229.53 272.30,229.58 272.80,229.62 273.30,229.67 273.80,229.72 274.30,229.77 274.80,229.82 275.30,229.87 275.80,229.91 276.30,229.96 276.80,230.01 277.30,230.05 277.80,230.10 278.30,230.14 278.80,230.18 279.30,230.23 279.80,230.27 280.30,230.31 280.80,230.35 281.30,230.39 281.80,230.43 282.30,230.47 282.80,230.51 283.30,230.55 283.80,230.58 284.30,230.62 284.80,230.66 285.30,230.69 285.80,230.73 286.30,230.76 286.80,230.80 287.30,230.83 287.80,230.86 288.30,230.89 288.80,230.93 289.30,230.96 289.80,230.99 290.30,231.02 290.80,231.05 291.30,231.08 291.80,231.11 292.30,231.14 292.80,231.16 293.30,231.19 293.80,231.22 294.30,231.25 294.80,231.27 295.30,231.30 295.80,231.33 296.30,231.35 296.80,231.38 297.30,231.40 297.80,231.43 298.30,231.45 298.80,231.47 299.30,231.50 299.80,231.52 300.30,231.55 300.80,231.57 301.30,231.59 301.80,231.61 302.30,231.64 302.80,231.66 303.30,231.68 303.80,231.70 304.30,231.72 304.80,231.75 305.30,231.77 305.80,231.79 306.30,231.81 306.80,231.83 307.30,231.85 307.80,231.87 308.30,231.89 308.80,231.91 309.30,231.93 309.80,231.95 310.30,231.97 310.80,232.00 311.30,232.02 311.80,232.04" stroke="#05D0F5" stroke-width="2.80" stroke-dasharray="3.8 8.0" stroke-linecap="round"/>
<path d="M35.80,66.75L36.30,68.84 36.80,70.92 37.30,73.00 37.80,75.08 38.30,77.16 38.80,79.23 39.30,81.30 39.80,83.36 40.30,85.42 40.80,87.46 41.30,89.50 41.80,91.53 42.30,93.55 42.80,95.56 43.30,97.56 43.80,99.55 44.30,101.52 44.80,103.48 45.30,105.42 45.80,107.35 46.30,109.26 46.80,111.15 47.30,113.03 47.80,114.89 48.30,116.72 48.80,118.54 49.30,120.33 49.80,122.11 50.30,123.86 50.80,125.58 51.30,127.28 51.80,128.96 52.30,130.60 52.80,132.22 53.30,133.82 53.80,135.38 54.30,136.92 54.80,138.42 55.30,139.89 55.80,141.33 56.30,142.74 56.80,144.11 57.30,145.45 57.80,146.75 58.30,148.02 58.80,149.25 59.30,150.44 59.80,151.60 60.30,152.72 60.80,153.81 61.30,154.85 61.80,155.86 62.30,156.83 62.80,157.76 63.30,158.66 63.80,159.51 64.30,160.33 64.80,161.10 65.30,161.84 65.80,162.54 66.30,163.19 66.80,163.81 67.30,164.38 67.80,164.92 68.30,165.42 68.80,165.88 69.30,166.31 69.80,166.70 70.30,167.05 70.80,167.37 71.30,167.66 71.80,167.92 72.30,168.14 72.80,168.34 73.30,168.50 73.80,168.64 74.30,168.75 74.80,168.84 75.30,168.90 75.80,168.93 76.30,168.94 76.80,168.93 77.30,168.90 77.80,168.84 78.30,168.77 78.80,168.67 79.30,168.56 79.80,168.43 80.30,168.28 80.80,168.12 81.30,167.94 81.80,167.75 82.30,167.55 82.80,167.34 83.30,167.11 83.80,166.87 84.30,166.63 84.80,166.37 85.30,166.11 85.80,165.84 86.30,165.57 86.80,165.29 87.30,165.01 87.80,164.73 88.30,164.44 88.80,164.15 89.30,163.86 89.80,163.58 90.30,163.29 90.80,163.01 91.30,162.73 91.80,162.45 92.30,162.18 92.80,161.92 93.30,161.66 93.80,161.41 94.30,161.17 94.80,160.94 95.30,160.72 95.80,160.51 96.30,160.31 96.80,160.13 97.30,159.96 97.80,159.81 98.30,159.67 98.80,159.55 99.30,159.44 99.80,159.34 100.30,159.25 100.80,159.18 101.30,159.12 101.80,159.07 102.30,159.04 102.80,159.02 103.30,159.00 103.80,159.00 104.30,159.01 104.80,159.03 105.30,159.06 105.80,159.09 106.30,159.14 106.80,159.20 107.30,159.26 107.80,159.33 108.30,159.41 108.80,159.50 109.30,159.59 109.80,159.70 110.30,159.80 110.80,159.92 111.30,160.04 111.80,160.16 112.30,160.29 112.80,160.43 113.30,160.57 113.80,160.71 114.30,160.86 114.80,161.01 115.30,161.17 115.80,161.32 116.30,161.48 116.80,161.65 117.30,161.81 117.80,161.97 118.30,162.14 118.80,162.31 119.30,162.47 119.80,162.64 120.30,162.81 120.80,162.98 121.30,163.14 121.80,163.31 122.30,163.47 122.80,163.63 123.30,163.79 123.80,163.95 124.30,164.10 124.80,164.26 125.30,164.40 125.80,164.55 126.30,164.69 126.80,164.82 127.30,164.95 127.80,165.08 128.30,165.20 128.80,165.31 129.30,165.42 129.80,165.52 130.30,165.62 130.80,165.72 131.30,165.81 131.80,165.89 132.30,165.97 132.80,166.05 133.30,166.12 133.80,166.18 134.30,166.25 134.80,166.31 135.30,166.36 135.80,166.41 136.30,166.46 136.80,166.50 137.30,166.55 137.80,166.58 138.30,166.62 138.80,166.65 139.30,166.68 139.80,166.70 140.30,166.73 140.80,166.75 141.30,166.76 141.80,166.78 142.30,166.79 142.80,166.81 143.30,166.81 143.80,166.82 144.30,166.83 144.80,166.83 145.30,166.83 145.80,166.84 146.30,166.84 146.80,166.83 147.30,166.83 147.80,166.83 148.30,166.83 148.80,166.82 149.30,166.82 149.80,166.81 150.30,166.80 150.80,166.80 151.30,166.79 151.80,166.78 152.30,166.78 152.80,166.77 153.30,166.77 153.80,166.76 154.30,166.76 154.80,166.75 155.30,166.75 155.80,166.75 156.30,166.75 156.80,166.75 157.30,166.75 157.80,166.75 158.30,166.76 158.80,166.76 159.30,166.77 159.80,166.78 160.30,166.79 160.80,166.80 161.30,166.82 161.80,166.83 162.30,166.85 162.80,166.87 163.30,166.89 163.80,166.91 164.30,166.93 164.80,166.96 165.30,166.98 165.80,167.01 166.30,167.04 166.80,167.07 167.30,167.10 167.80,167.13 168.30,167.16 168.80,167.19 169.30,167.23 169.80,167.26 170.30,167.30 170.80,167.34 171.30,167.37 171.80,167.41 172.30,167.45 172.80,167.49 173.30,167.53 173.80,167.58 174.30,167.62 174.80,167.66 175.30,167.71 175.80,167.75 176.30,167.80 176.80,167.84 177.30,167.89 177.80,167.93 178.30,167.98 178.80,168.03 179.30,168.08 179.80,168.12 180.30,168.17 180.80,168.22 181.30,168.27 181.80,168.32 182.30,168.37 182.80,168.42 183.30,168.47 183.80,168.52 184.30,168.57 184.80,168.62 185.30,168.67 185.80,168.72 186.30,168.76 186.80,168.81 187.30,168.86 187.80,168.91 188.30,168.96 188.80,169.01 189.30,169.06 189.80,169.11 190.30,169.15 190.80,169.20 191.30,169.25 191.80,169.29 192.30,169.34 192.80,169.39 193.30,169.43 193.80,169.48 194.30,169.52 194.80,169.57 195.30,169.61 195.80,169.66 196.30,169.70 196.80,169.75 197.30,169.79 197.80,169.83 198.30,169.88 198.80,169.92 199.30,169.96 199.80,170.01 200.30,170.05 200.80,170.09 201.30,170.13 201.80,170.18 202.30,170.22 202.80,170.26 203.30,170.30 203.80,170.34 204.30,170.38 204.80,170.43 205.30,170.47 205.80,170.51 206.30,170.55 206.80,170.59 207.30,170.63 207.80,170.67 208.30,170.71 208.80,170.75 209.30,170.79 209.80,170.83 210.30,170.87 210.80,170.91 211.30,170.95 211.80,170.99 212.30,171.03 212.80,171.06 213.30,171.10 213.80,171.14 214.30,171.18 214.80,171.22 215.30,171.26 215.80,171.30 216.30,171.34 216.80,171.38 217.30,171.42 217.80,171.45 218.30,171.49 218.80,171.53 219.30,171.57 219.80,171.61 220.30,171.65 220.80,171.69 221.30,171.72 221.80,171.76 222.30,171.80 222.80,171.84 223.30,171.88 223.80,171.92 224.30,171.96 224.80,171.99 225.30,172.03 225.80,172.07 226.30,172.11 226.80,172.15 227.30,172.18 227.80,172.22 228.30,172.26 228.80,172.30 229.30,172.33 229.80,172.37 230.30,172.41 230.80,172.44 231.30,172.48 231.80,172.51 232.30,172.55 232.80,172.58 233.30,172.62 233.80,172.65 234.30,172.69 234.80,172.72 235.30,172.76 235.80,172.79 236.30,172.82 236.80,172.86 237.30,172.89 237.80,172.92 238.30,172.95 238.80,172.99 239.30,173.02 239.80,173.05 240.30,173.08 240.80,173.11 241.30,173.14 241.80,173.16 242.30,173.19 242.80,173.22 243.30,173.25 243.80,173.28 244.30,173.30 244.80,173.33 245.30,173.35 245.80,173.38 246.30,173.40 246.80,173.43 247.30,173.45 247.80,173.47 248.30,173.50 248.80,173.52 249.30,173.54 249.80,173.56 250.30,173.58 250.80,173.60 251.30,173.62 251.80,173.63 252.30,173.65 252.80,173.67 253.30,173.68 253.80,173.70 254.30,173.71 254.80,173.73 255.30,173.74 255.80,173.76 256.30,173.77 256.80,173.78 257.30,173.80 257.80,173.81 258.30,173.82 258.80,173.83 259.30,173.84 259.80,173.86 260.30,173.87 260.80,173.88 261.30,173.89 261.80,173.90 262.30,173.91 262.80,173.92 263.30,173.93 263.80,173.94 264.30,173.95 264.80,173.96 265.30,173.97 265.80,173.98 266.30,173.99 266.80,174.00 267.30,174.01 267.80,174.02 268.30,174.03 268.80,174.04 269.30,174.05 269.80,174.06 270.30,174.07 270.80,174.08 271.30,174.09 271.80,174.10 272.30,174.11 272.80,174.13 273.30,174.14 273.80,174.15 274.30,174.16 274.80,174.18 275.30,174.19 275.80,174.21 276.30,174.22 276.80,174.24 277.30,174.25 277.80,174.27 278.30,174.29 278.80,174.30 279.30,174.32 279.80,174.34 280.30,174.36 280.80,174.38 281.30,174.40 281.80,174.42 282.30,174.44 282.80,174.47 283.30,174.49 283.80,174.51 284.30,174.54 284.80,174.56 285.30,174.59 285.80,174.61 286.30,174.64 286.80,174.67 287.30,174.70 287.80,174.72 288.30,174.75 288.80,174.78 289.30,174.81 289.80,174.84 290.30,174.88 290.80,174.91 291.30,174.94 291.80,174.97 292.30,175.00 292.80,175.04 293.30,175.07 293.80,175.11 294.30,175.14 294.80,175.18 295.30,175.21 295.80,175.25 296.30,175.28 296.80,175.32 297.30,175.36 297.80,175.39 298.30,175.43 298.80,175.47 299.30,175.51 299.80,175.54 300.30,175.58 300.80,175.62 301.30,175.66 301.80,175.70 302.30,175.74 302.80,175.78 303.30,175.82 303.80,175.86 304.30,175.90 304.80,175.94 305.30,175.98 305.80,176.02 306.30,176.06 306.80,176.10 307.30,176.15 307.80,176.19 308.30,176.23 308.80,176.27 309.30,176.31 309.80,176.35 310.30,176.39 310.80,176.44 311.30,176.48 311.80,176.52" stroke="#FFC000" stroke-width="2.80" stroke-dasharray="3.8 8.0" stroke-linecap="round"/>
<path d="M35.80,68.92L36.30,71.19 36.80,73.46 37.30,75.72 37.80,77.99 38.30,80.25 38.80,82.50 39.30,84.76 39.80,87.00 40.30,89.24 40.80,91.46 41.30,93.68 41.80,95.89 42.30,98.09 42.80,100.28 43.30,102.45 43.80,104.61 44.30,106.75 44.80,108.88 45.30,110.99 45.80,113.09 46.30,115.16 46.80,117.22 47.30,119.26 47.80,121.27 48.30,123.26 48.80,125.23 49.30,127.18 49.80,129.10 50.30,131.00 50.80,132.86 51.30,134.71 51.80,136.52 52.30,138.30 52.80,140.05 53.30,141.77 53.80,143.46 54.30,145.12 54.80,146.74 55.30,148.33 55.80,149.88 56.30,151.39 56.80,152.86 57.30,154.30 57.80,155.70 58.30,157.06 58.80,158.38 59.30,159.66 59.80,160.90 60.30,162.10 60.80,163.26 61.30,164.38 61.80,165.47 62.30,166.51 62.80,167.52 63.30,168.49 63.80,169.42 64.30,170.31 64.80,171.17 65.30,171.99 65.80,172.77 66.30,173.51 66.80,174.21 67.30,174.88 67.80,175.51 68.30,176.10 68.80,176.67 69.30,177.19 69.80,177.69 70.30,178.15 70.80,178.58 71.30,178.98 71.80,179.35 72.30,179.70 72.80,180.01 73.30,180.30 73.80,180.56 74.30,180.79 74.80,181.00 75.30,181.19 75.80,181.36 76.30,181.50 76.80,181.62 77.30,181.72 77.80,181.80 78.30,181.86 78.80,181.91 79.30,181.93 79.80,181.94 80.30,181.94 80.80,181.92 81.30,181.88 81.80,181.84 82.30,181.78 82.80,181.71 83.30,181.63 83.80,181.54 84.30,181.44 84.80,181.33 85.30,181.21 85.80,181.09 86.30,180.96 86.80,180.83 87.30,180.69 87.80,180.55 88.30,180.41 88.80,180.27 89.30,180.13 89.80,179.98 90.30,179.84 90.80,179.70 91.30,179.56 91.80,179.42 92.30,179.29 92.80,179.17 93.30,179.05 93.80,178.94 94.30,178.83 94.80,178.73 95.30,178.65 95.80,178.57 96.30,178.50 96.80,178.45 97.30,178.40 97.80,178.37 98.30,178.36 98.80,178.35 99.30,178.36 99.80,178.38 100.30,178.41 100.80,178.45 101.30,178.50 101.80,178.57 102.30,178.64 102.80,178.72 103.30,178.82 103.80,178.92 104.30,179.03 104.80,179.15 105.30,179.28 105.80,179.42 106.30,179.57 106.80,179.72 107.30,179.88 107.80,180.05 108.30,180.22 108.80,180.41 109.30,180.59 109.80,180.79 110.30,180.99 110.80,181.19 111.30,181.40 111.80,181.62 112.30,181.83 112.80,182.06 113.30,182.28 113.80,182.52 114.30,182.75 114.80,182.99 115.30,183.23 115.80,183.47 116.30,183.71 116.80,183.96 117.30,184.21 117.80,184.46 118.30,184.71 118.80,184.96 119.30,185.21 119.80,185.46 120.30,185.71 120.80,185.96 121.30,186.21 121.80,186.46 122.30,186.71 122.80,186.95 123.30,187.20 123.80,187.44 124.30,187.68 124.80,187.92 125.30,188.15 125.80,188.38 126.30,188.60 126.80,188.83 127.30,189.04 127.80,189.26 128.30,189.47 128.80,189.67 129.30,189.87 129.80,190.06 130.30,190.25 130.80,190.44 131.30,190.62 131.80,190.80 132.30,190.97 132.80,191.14 133.30,191.31 133.80,191.47 134.30,191.62 134.80,191.78 135.30,191.93 135.80,192.08 136.30,192.22 136.80,192.36 137.30,192.50 137.80,192.63 138.30,192.76 138.80,192.89 139.30,193.02 139.80,193.14 140.30,193.26 140.80,193.38 141.30,193.49 141.80,193.61 142.30,193.72 142.80,193.82 143.30,193.93 143.80,194.04 144.30,194.14 144.80,194.24 145.30,194.34 145.80,194.44 146.30,194.53 146.80,194.63 147.30,194.72 147.80,194.81 148.30,194.91 148.80,195.00 149.30,195.09 149.80,195.17 150.30,195.26 150.80,195.35 151.30,195.44 151.80,195.52 152.30,195.61 152.80,195.70 153.30,195.78 153.80,195.87 154.30,195.95 154.80,196.04 155.30,196.12 155.80,196.21 156.30,196.30 156.80,196.38 157.30,196.47 157.80,196.56 158.30,196.65 158.80,196.74 159.30,196.83 159.80,196.92 160.30,197.02 160.80,197.11 161.30,197.21 161.80,197.30 162.30,197.40 162.80,197.49 163.30,197.59 163.80,197.69 164.30,197.79 164.80,197.88 165.30,197.98 165.80,198.08 166.30,198.18 166.80,198.28 167.30,198.38 167.80,198.48 168.30,198.59 168.80,198.69 169.30,198.79 169.80,198.89 170.30,198.99 170.80,199.09 171.30,199.19 171.80,199.30 172.30,199.40 172.80,199.50 173.30,199.60 173.80,199.70 174.30,199.80 174.80,199.90 175.30,200.00 175.80,200.11 176.30,200.21 176.80,200.30 177.30,200.40 177.80,200.50 178.30,200.60 178.80,200.70 179.30,200.80 179.80,200.89 180.30,200.99 180.80,201.08 181.30,201.18 181.80,201.27 182.30,201.37 182.80,201.46 183.30,201.55 183.80,201.64 184.30,201.73 184.80,201.82 185.30,201.91 185.80,201.99 186.30,202.08 186.80,202.16 187.30,202.25 187.80,202.33 188.30,202.41 188.80,202.49 189.30,202.57 189.80,202.64 190.30,202.72 190.80,202.79 191.30,202.87 191.80,202.94 192.30,203.01 192.80,203.08 193.30,203.15 193.80,203.22 194.30,203.28 194.80,203.35 195.30,203.41 195.80,203.48 196.30,203.54 196.80,203.60 197.30,203.66 197.80,203.72 198.30,203.78 198.80,203.84 199.30,203.90 199.80,203.95 200.30,204.01 200.80,204.07 201.30,204.12 201.80,204.17 202.30,204.23 202.80,204.28 203.30,204.33 203.80,204.38 204.30,204.44 204.80,204.49 205.30,204.54 205.80,204.59 206.30,204.64 206.80,204.68 207.30,204.73 207.80,204.78 208.30,204.83 208.80,204.88 209.30,204.92 209.80,204.97 210.30,205.02 210.80,205.07 211.30,205.11 211.80,205.16 212.30,205.21 212.80,205.25 213.30,205.30 213.80,205.34 214.30,205.39 214.80,205.44 215.30,205.48 215.80,205.53 216.30,205.58 216.80,205.62 217.30,205.67 217.80,205.72 218.30,205.77 218.80,205.81 219.30,205.86 219.80,205.91 220.30,205.96 220.80,206.01 221.30,206.06 221.80,206.11 222.30,206.16 222.80,206.21 223.30,206.26 223.80,206.31 224.30,206.36 224.80,206.41 225.30,206.46 225.80,206.51 226.30,206.56 226.80,206.62 227.30,206.67 227.80,206.72 228.30,206.77 228.80,206.82 229.30,206.88 229.80,206.93 230.30,206.98 230.80,207.03 231.30,207.08 231.80,207.14 232.30,207.19 232.80,207.24 233.30,207.29 233.80,207.34 234.30,207.40 234.80,207.45 235.30,207.50 235.80,207.55 236.30,207.60 236.80,207.65 237.30,207.71 237.80,207.76 238.30,207.81 238.80,207.86 239.30,207.91 239.80,207.96 240.30,208.01 240.80,208.06 241.30,208.11 241.80,208.15 242.30,208.20 242.80,208.25 243.30,208.30 243.80,208.35 244.30,208.39 244.80,208.44 245.30,208.49 245.80,208.53 246.30,208.58 246.80,208.62 247.30,208.67 247.80,208.71 248.30,208.75 248.80,208.79 249.30,208.84 249.80,208.88 250.30,208.92 250.80,208.96 251.30,209.00 251.80,209.04 252.30,209.08 252.80,209.11 253.30,209.15 253.80,209.19 254.30,209.23 254.80,209.26 255.30,209.30 255.80,209.33 256.30,209.37 256.80,209.40 257.30,209.43 257.80,209.47 258.30,209.50 258.80,209.53 259.30,209.57 259.80,209.60 260.30,209.63 260.80,209.66 261.30,209.69 261.80,209.72 262.30,209.75 262.80,209.78 263.30,209.81 263.80,209.84 264.30,209.87 264.80,209.90 265.30,209.93 265.80,209.96 266.30,209.99 266.80,210.02 267.30,210.05 267.80,210.08 268.30,210.10 268.80,210.13 269.30,210.16 269.80,210.19 270.30,210.22 270.80,210.25 271.30,210.27 271.80,210.30 272.30,210.33 272.80,210.36 273.30,210.39 273.80,210.42 274.30,210.44 274.80,210.47 275.30,210.50 275.80,210.53 276.30,210.56 276.80,210.59 277.30,210.62 277.80,210.65 278.30,210.68 278.80,210.71 279.30,210.74 279.80,210.77 280.30,210.80 280.80,210.83 281.30,210.87 281.80,210.90 282.30,210.93 282.80,210.96 283.30,211.00 283.80,211.03 284.30,211.06 284.80,211.10 285.30,211.13 285.80,211.16 286.30,211.20 286.80,211.23 287.30,211.27 287.80,211.31 288.30,211.34 288.80,211.38 289.30,211.41 289.80,211.45 290.30,211.49 290.80,211.52 291.30,211.56 291.80,211.60 292.30,211.64 292.80,211.67 293.30,211.71 293.80,211.75 294.30,211.79 294.80,211.83 295.30,211.86 295.80,211.90 296.30,211.94 296.80,211.98 297.30,212.02 297.80,212.06 298.30,212.10 298.80,212.14 299.30,212.18 299.80,212.22 300.30,212.26 300.80,212.30 301.30,212.34 301.80,212.38 302.30,212.42 302.80,212.46 303.30,212.50 303.80,212.54 304.30,212.59 304.80,212.63 305.30,212.67 305.80,212.71 306.30,212.75 306.80,212.79 307.30,212.83 307.80,212.87 308.30,212.92 308.80,212.96 309.30,213.00 309.80,213.04 310.30,213.08 310.80,213.12 311.30,213.17 311.80,213.21" stroke="#FA0505" stroke-width="2.80" stroke-dasharray="3.8 8.0" stroke-linecap="round"/>
<path d="M35.80,48.35L36.30,50.71 36.80,53.07 37.30,55.43 37.80,57.79 38.30,60.14 38.80,62.49 39.30,64.84 39.80,67.18 40.30,69.51 40.80,71.84 41.30,74.16 41.80,76.47 42.30,78.78 42.80,81.07 43.30,83.35 43.80,85.63 44.30,87.89 44.80,90.14 45.30,92.37 45.80,94.59 46.30,96.80 46.80,98.99 47.30,101.17 47.80,103.33 48.30,105.47 48.80,107.59 49.30,109.69 49.80,111.78 50.30,113.84 50.80,115.88 51.30,117.90 51.80,119.90 52.30,121.88 52.80,123.83 53.30,125.75 53.80,127.65 54.30,129.52 54.80,131.37 55.30,133.19 55.80,134.98 56.30,136.74 56.80,138.47 57.30,140.17 57.80,141.83 58.30,143.47 58.80,145.07 59.30,146.64 59.80,148.17 60.30,149.66 60.80,151.12 61.30,152.54 61.80,153.92 62.30,155.26 62.80,156.55 63.30,157.81 63.80,159.02 64.30,160.18 64.80,161.30 65.30,162.38 65.80,163.40 66.30,164.38 66.80,165.30 67.30,166.18 67.80,167.01 68.30,167.79 68.80,168.52 69.30,169.21 69.80,169.85 70.30,170.46 70.80,171.02 71.30,171.53 71.80,172.01 72.30,172.45 72.80,172.85 73.30,173.22 73.80,173.55 74.30,173.84 74.80,174.10 75.30,174.33 75.80,174.52 76.30,174.69 76.80,174.83 77.30,174.93 77.80,175.01 78.30,175.07 78.80,175.10 79.30,175.10 79.80,175.08 80.30,175.04 80.80,174.98 81.30,174.90 81.80,174.80 82.30,174.68 82.80,174.55 83.30,174.40 83.80,174.23 84.30,174.06 84.80,173.86 85.30,173.66 85.80,173.45 86.30,173.23 86.80,173.00 87.30,172.76 87.80,172.52 88.30,172.27 88.80,172.01 89.30,171.76 89.80,171.50 90.30,171.24 90.80,170.98 91.30,170.73 91.80,170.47 92.30,170.22 92.80,169.97 93.30,169.73 93.80,169.50 94.30,169.27 94.80,169.05 95.30,168.84 95.80,168.64 96.30,168.46 96.80,168.28 97.30,168.12 97.80,167.98 98.30,167.85 98.80,167.73 99.30,167.63 99.80,167.54 100.30,167.46 100.80,167.40 101.30,167.35 101.80,167.31 102.30,167.28 102.80,167.26 103.30,167.26 103.80,167.26 104.30,167.28 104.80,167.30 105.30,167.34 105.80,167.39 106.30,167.44 106.80,167.51 107.30,167.58 107.80,167.66 108.30,167.75 108.80,167.85 109.30,167.95 109.80,168.06 110.30,168.18 110.80,168.31 111.30,168.44 111.80,168.58 112.30,168.72 112.80,168.87 113.30,169.02 113.80,169.18 114.30,169.35 114.80,169.51 115.30,169.68 115.80,169.86 116.30,170.04 116.80,170.22 117.30,170.40 117.80,170.58 118.30,170.77 118.80,170.96 119.30,171.15 119.80,171.34 120.30,171.53 120.80,171.73 121.30,171.92 121.80,172.11 122.30,172.30 122.80,172.50 123.30,172.69 123.80,172.87 124.30,173.06 124.80,173.25 125.30,173.43 125.80,173.61 126.30,173.79 126.80,173.96 127.30,174.13 127.80,174.30 128.30,174.46 128.80,174.62 129.30,174.77 129.80,174.92 130.30,175.07 130.80,175.21 131.30,175.35 131.80,175.48 132.30,175.62 132.80,175.74 133.30,175.87 133.80,175.99 134.30,176.11 134.80,176.23 135.30,176.34 135.80,176.45 136.30,176.56 136.80,176.67 137.30,176.77 137.80,176.87 138.30,176.97 138.80,177.06 139.30,177.16 139.80,177.25 140.30,177.34 140.80,177.42 141.30,177.51 141.80,177.60 142.30,177.68 142.80,177.76 143.30,177.84 143.80,177.92 144.30,177.99 144.80,178.07 145.30,178.15 145.80,178.22 146.30,178.29 146.80,178.37 147.30,178.44 147.80,178.51 148.30,178.58 148.80,178.65 149.30,178.72 149.80,178.79 150.30,178.86 150.80,178.93 151.30,179.00 151.80,179.07 152.30,179.14 152.80,179.21 153.30,179.28 153.80,179.35 154.30,179.42 154.80,179.50 155.30,179.57 155.80,179.64 156.30,179.72 156.80,179.80 157.30,179.87 157.80,179.95 158.30,180.03 158.80,180.11 159.30,180.20 159.80,180.28 160.30,180.37 160.80,180.45 161.30,180.54 161.80,180.63 162.30,180.72 162.80,180.81 163.30,180.91 163.80,181.00 164.30,181.09 164.80,181.19 165.30,181.28 165.80,181.38 166.30,181.48 166.80,181.58 167.30,181.67 167.80,181.77 168.30,181.87 168.80,181.97 169.30,182.07 169.80,182.17 170.30,182.27 170.80,182.37 171.30,182.47 171.80,182.57 172.30,182.67 172.80,182.77 173.30,182.87 173.80,182.97 174.30,183.07 174.80,183.17 175.30,183.27 175.80,183.36 176.30,183.46 176.80,183.56 177.30,183.65 177.80,183.75 178.30,183.84 178.80,183.94 179.30,184.03 179.80,184.12 180.30,184.21 180.80,184.30 181.30,184.39 181.80,184.48 182.30,184.57 182.80,184.65 183.30,184.74 183.80,184.82 184.30,184.90 184.80,184.98 185.30,185.06 185.80,185.14 186.30,185.21 186.80,185.28 187.30,185.35 187.80,185.42 188.30,185.49 188.80,185.56 189.30,185.62 189.80,185.68 190.30,185.74 190.80,185.80 191.30,185.85 191.80,185.91 192.30,185.96 192.80,186.01 193.30,186.06 193.80,186.11 194.30,186.15 194.80,186.19 195.30,186.24 195.80,186.28 196.30,186.32 196.80,186.35 197.30,186.39 197.80,186.43 198.30,186.46 198.80,186.49 199.30,186.52 199.80,186.55 200.30,186.58 200.80,186.61 201.30,186.64 201.80,186.67 202.30,186.69 202.80,186.72 203.30,186.74 203.80,186.77 204.30,186.79 204.80,186.81 205.30,186.84 205.80,186.86 206.30,186.88 206.80,186.90 207.30,186.92 207.80,186.94 208.30,186.96 208.80,186.98 209.30,187.00 209.80,187.02 210.30,187.04 210.80,187.06 211.30,187.08 211.80,187.09 212.30,187.11 212.80,187.13 213.30,187.15 213.80,187.17 214.30,187.19 214.80,187.22 215.30,187.24 215.80,187.26 216.30,187.28 216.80,187.30 217.30,187.33 217.80,187.35 218.30,187.38 218.80,187.40 219.30,187.43 219.80,187.46 220.30,187.49 220.80,187.52 221.30,187.55 221.80,187.58 222.30,187.61 222.80,187.64 223.30,187.68 223.80,187.71 224.30,187.74 224.80,187.78 225.30,187.82 225.80,187.85 226.30,187.89 226.80,187.93 227.30,187.97 227.80,188.01 228.30,188.05 228.80,188.09 229.30,188.13 229.80,188.17 230.30,188.21 230.80,188.26 231.30,188.30 231.80,188.34 232.30,188.39 232.80,188.43 233.30,188.47 233.80,188.52 234.30,188.56 234.80,188.61 235.30,188.65 235.80,188.70 236.30,188.75 236.80,188.79 237.30,188.84 237.80,188.88 238.30,188.93 238.80,188.98 239.30,189.02 239.80,189.07 240.30,189.12 240.80,189.16 241.30,189.21 241.80,189.25 242.30,189.30 242.80,189.35 243.30,189.39 243.80,189.44 244.30,189.48 244.80,189.53 245.30,189.58 245.80,189.62 246.30,189.66 246.80,189.71 247.30,189.75 247.80,189.80 248.30,189.84 248.80,189.88 249.30,189.93 249.80,189.97 250.30,190.01 250.80,190.05 251.30,190.09 251.80,190.13 252.30,190.17 252.80,190.21 253.30,190.25 253.80,190.29 254.30,190.32 254.80,190.36 255.30,190.40 255.80,190.44 256.30,190.47 256.80,190.51 257.30,190.54 257.80,190.58 258.30,190.62 258.80,190.65 259.30,190.69 259.80,190.72 260.30,190.75 260.80,190.79 261.30,190.82 261.80,190.85 262.30,190.89 262.80,190.92 263.30,190.95 263.80,190.99 264.30,191.02 264.80,191.05 265.30,191.08 265.80,191.11 266.30,191.15 266.80,191.18 267.30,191.21 267.80,191.24 268.30,191.27 268.80,191.30 269.30,191.34 269.80,191.37 270.30,191.40 270.80,191.43 271.30,191.46 271.80,191.49 272.30,191.52 272.80,191.56 273.30,191.59 273.80,191.62 274.30,191.65 274.80,191.68 275.30,191.71 275.80,191.75 276.30,191.78 276.80,191.81 277.30,191.84 277.80,191.88 278.30,191.91 278.80,191.94 279.30,191.98 279.80,192.01 280.30,192.04 280.80,192.08 281.30,192.11 281.80,192.15 282.30,192.18 282.80,192.21 283.30,192.25 283.80,192.29 284.30,192.32 284.80,192.36 285.30,192.39 285.80,192.43 286.30,192.47 286.80,192.50 287.30,192.54 287.80,192.58 288.30,192.61 288.80,192.65 289.30,192.69 289.80,192.73 290.30,192.77 290.80,192.81 291.30,192.84 291.80,192.88 292.30,192.92 292.80,192.96 293.30,193.00 293.80,193.04 294.30,193.08 294.80,193.12 295.30,193.16 295.80,193.20 296.30,193.24 296.80,193.28 297.30,193.32 297.80,193.36 298.30,193.40 298.80,193.44 299.30,193.48 299.80,193.52 300.30,193.56 300.80,193.61 301.30,193.65 301.80,193.69 302.30,193.73 302.80,193.77 303.30,193.81 303.80,193.86 304.30,193.90 304.80,193.94 305.30,193.98 305.80,194.02 306.30,194.07 306.80,194.11 307.30,194.15 307.80,194.19 308.30,194.23 308.80,194.28 309.30,194.32 309.80,194.36 310.30,194.40 310.80,194.44 311.30,194.49 311.80,194.53" stroke="#0A4BFA" stroke-width="2.80" stroke-dasharray="3.8 8.0" stroke-linecap="round"/>
</g>
<g clip-path="url(#cb)" fill="none" stroke-linejoin="round">
<path d="M355.00,125.80L355.50,125.57 356.00,125.34 356.50,125.11 357.00,124.89 357.50,124.66 358.00,124.43 358.50,124.20 359.00,123.98 359.50,123.75 360.00,123.53 360.50,123.31 361.00,123.09 361.50,122.87 362.00,122.65 362.50,122.43 363.00,122.22 363.50,122.00 364.00,121.79 364.50,121.58 365.00,121.38 365.50,121.17 366.00,120.97 366.50,120.77 367.00,120.57 367.50,120.38 368.00,120.19 368.50,120.00 369.00,119.81 369.50,119.63 370.00,119.45 370.50,119.28 371.00,119.11 371.50,118.94 372.00,118.77 372.50,118.61 373.00,118.46 373.50,118.31 374.00,118.16 374.50,118.01 375.00,117.88 375.50,117.74 376.00,117.61 376.50,117.49 377.00,117.37 377.50,117.25 378.00,117.14 378.50,117.04 379.00,116.94 379.50,116.85 380.00,116.76 380.50,116.68 381.00,116.60 381.50,116.53 382.00,116.47 382.50,116.41 383.00,116.36 383.50,116.32 384.00,116.28 384.50,116.25 385.00,116.22 385.50,116.20 386.00,116.19 386.50,116.19 387.00,116.19 387.50,116.20 388.00,116.22 388.50,116.24 389.00,116.27 389.50,116.31 390.00,116.35 390.50,116.40 391.00,116.45 391.50,116.51 392.00,116.58 392.50,116.65 393.00,116.73 393.50,116.81 394.00,116.90 394.50,116.99 395.00,117.08 395.50,117.19 396.00,117.29 396.50,117.40 397.00,117.52 397.50,117.64 398.00,117.76 398.50,117.89 399.00,118.02 399.50,118.16 400.00,118.30 400.50,118.44 401.00,118.59 401.50,118.74 402.00,118.89 402.50,119.05 403.00,119.21 403.50,119.37 404.00,119.54 404.50,119.71 405.00,119.88 405.50,120.05 406.00,120.23 406.50,120.40 407.00,120.58 407.50,120.76 408.00,120.95 408.50,121.13 409.00,121.32 409.50,121.51 410.00,121.70 410.50,121.89 411.00,122.08 411.50,122.27 412.00,122.46 412.50,122.66 413.00,122.85 413.50,123.05 414.00,123.24 414.50,123.44 415.00,123.63 415.50,123.83 416.00,124.02 416.50,124.22 417.00,124.41 417.50,124.61 418.00,124.80 418.50,124.99 419.00,125.19 419.50,125.38 420.00,125.57 420.50,125.76 421.00,125.96 421.50,126.15 422.00,126.34 422.50,126.53 423.00,126.72 423.50,126.91 424.00,127.10 424.50,127.29 425.00,127.47 425.50,127.66 426.00,127.85 426.50,128.04 427.00,128.22 427.50,128.41 428.00,128.59 428.50,128.78 429.00,128.96 429.50,129.15 430.00,129.33 430.50,129.51 431.00,129.69 431.50,129.87 432.00,130.06 432.50,130.24 433.00,130.42 433.50,130.60 434.00,130.77 434.50,130.95 435.00,131.13 435.50,131.31 436.00,131.48 436.50,131.66 437.00,131.84 437.50,132.01 438.00,132.18 438.50,132.36 439.00,132.53 439.50,132.70 440.00,132.87 440.50,133.04 441.00,133.22 441.50,133.38 442.00,133.55 442.50,133.72 443.00,133.89 443.50,134.06 444.00,134.22 444.50,134.39 445.00,134.55 445.50,134.72 446.00,134.88 446.50,135.04 447.00,135.20 447.50,135.37 448.00,135.53 448.50,135.69 449.00,135.84 449.50,136.00 450.00,136.16 450.50,136.32 451.00,136.47 451.50,136.63 452.00,136.78 452.50,136.94 453.00,137.09 453.50,137.25 454.00,137.40 454.50,137.55 455.00,137.70 455.50,137.85 456.00,138.00 456.50,138.15 457.00,138.30 457.50,138.45 458.00,138.60 458.50,138.74 459.00,138.89 459.50,139.04 460.00,139.18 460.50,139.33 461.00,139.47 461.50,139.62 462.00,139.76 462.50,139.90 463.00,140.04 463.50,140.19 464.00,140.33 464.50,140.47 465.00,140.61 465.50,140.75 466.00,140.89 466.50,141.03 467.00,141.17 467.50,141.31 468.00,141.45 468.50,141.59 469.00,141.73 469.50,141.86 470.00,142.00 470.50,142.14 471.00,142.28 471.50,142.41 472.00,142.55 472.50,142.68 473.00,142.82 473.50,142.95 474.00,143.09 474.50,143.22 475.00,143.36 475.50,143.49 476.00,143.63 476.50,143.76 477.00,143.90 477.50,144.03 478.00,144.16 478.50,144.30 479.00,144.43 479.50,144.56 480.00,144.69 480.50,144.83 481.00,144.96 481.50,145.09 482.00,145.22 482.50,145.35 483.00,145.49 483.50,145.62 484.00,145.75 484.50,145.88 485.00,146.01 485.50,146.14 486.00,146.26 486.50,146.39 487.00,146.52 487.50,146.65 488.00,146.78 488.50,146.90 489.00,147.03 489.50,147.15 490.00,147.28 490.50,147.41 491.00,147.53 491.50,147.65 492.00,147.78 492.50,147.90 493.00,148.02 493.50,148.14 494.00,148.26 494.50,148.38 495.00,148.50 495.50,148.62 496.00,148.74 496.50,148.86 497.00,148.98 497.50,149.09 498.00,149.21 498.50,149.33 499.00,149.44 499.50,149.55 500.00,149.67 500.50,149.78 501.00,149.89 501.50,150.00 502.00,150.11 502.50,150.22 503.00,150.33 503.50,150.43 504.00,150.54 504.50,150.65 505.00,150.75 505.50,150.86 506.00,150.96 506.50,151.06 507.00,151.16 507.50,151.26 508.00,151.36 508.50,151.46 509.00,151.56 509.50,151.65 510.00,151.75 510.50,151.84 511.00,151.94 511.50,152.03 512.00,152.12 512.50,152.21 513.00,152.30 513.50,152.39 514.00,152.48 514.50,152.57 515.00,152.65 515.50,152.74 516.00,152.82 516.50,152.91 517.00,152.99 517.50,153.07 518.00,153.16 518.50,153.24 519.00,153.32 519.50,153.40 520.00,153.48 520.50,153.56 521.00,153.64 521.50,153.71 522.00,153.79 522.50,153.87 523.00,153.94 523.50,154.02 524.00,154.09 524.50,154.17 525.00,154.24 525.50,154.32 526.00,154.39 526.50,154.46 527.00,154.54 527.50,154.61 528.00,154.68 528.50,154.75 529.00,154.82 529.50,154.89 530.00,154.96 530.50,155.03 531.00,155.10 531.50,155.17 532.00,155.24 532.50,155.31 533.00,155.38 533.50,155.45 534.00,155.52 534.50,155.59 535.00,155.65 535.50,155.72 536.00,155.79 536.50,155.86 537.00,155.92 537.50,155.99 538.00,156.06 538.50,156.13 539.00,156.20 539.50,156.26 540.00,156.33 540.50,156.40 541.00,156.47 541.50,156.53 542.00,156.60 542.50,156.67 543.00,156.73 543.50,156.80 544.00,156.87 544.50,156.94 545.00,157.00 545.50,157.07 546.00,157.14 546.50,157.21 547.00,157.27 547.50,157.34 548.00,157.41 548.50,157.47 549.00,157.54 549.50,157.61 550.00,157.68 550.50,157.74 551.00,157.81 551.50,157.88 552.00,157.94 552.50,158.01 553.00,158.08 553.50,158.14 554.00,158.21 554.50,158.28 555.00,158.34 555.50,158.41 556.00,158.48 556.50,158.54 557.00,158.61 557.50,158.68 558.00,158.74 558.50,158.81 559.00,158.87 559.50,158.94 560.00,159.01 560.50,159.07 561.00,159.14 561.50,159.20 562.00,159.27 562.50,159.33 563.00,159.40 563.50,159.46 564.00,159.53 564.50,159.59 565.00,159.66 565.50,159.72 566.00,159.79 566.50,159.85 567.00,159.92 567.50,159.98 568.00,160.05 568.50,160.11 569.00,160.17 569.50,160.24 570.00,160.30 570.50,160.37 571.00,160.43 571.50,160.49 572.00,160.56 572.50,160.62 573.00,160.68 573.50,160.75 574.00,160.81 574.50,160.87 575.00,160.94 575.50,161.00 576.00,161.06 576.50,161.12 577.00,161.19 577.50,161.25 578.00,161.31 578.50,161.37 579.00,161.44 579.50,161.50 580.00,161.56 580.50,161.62 581.00,161.68 581.50,161.74 582.00,161.81 582.50,161.87 583.00,161.93 583.50,161.99 584.00,162.05 584.50,162.11 585.00,162.18 585.50,162.24 586.00,162.30 586.50,162.36 587.00,162.42 587.50,162.48 588.00,162.54 588.50,162.60 589.00,162.67 589.50,162.73 590.00,162.79 590.50,162.85 591.00,162.91 591.50,162.97 592.00,163.03 592.50,163.09 593.00,163.15 593.50,163.21 594.00,163.27 594.50,163.34 595.00,163.40 595.50,163.46 596.00,163.52 596.50,163.58 597.00,163.64 597.50,163.70 598.00,163.76 598.50,163.82 599.00,163.88 599.50,163.94 600.00,164.00 600.50,164.07 601.00,164.13 601.50,164.19 602.00,164.25 602.50,164.31 603.00,164.37 603.50,164.43 604.00,164.49 604.50,164.55 605.00,164.61 605.50,164.68 606.00,164.74 606.50,164.80 607.00,164.86 607.50,164.92 608.00,164.98 608.50,165.04 609.00,165.10 609.50,165.16 610.00,165.23 610.50,165.29 611.00,165.35 611.50,165.41 612.00,165.47 612.50,165.53 613.00,165.59 613.50,165.65 614.00,165.71 614.50,165.78 615.00,165.84 615.50,165.90 616.00,165.96 616.50,166.02 617.00,166.08 617.50,166.14 618.00,166.20 618.50,166.27 619.00,166.33 619.50,166.39 620.00,166.45 620.50,166.51 621.00,166.57 621.50,166.63 622.00,166.70 622.50,166.76 623.00,166.82 623.50,166.88 624.00,166.94 624.50,167.00 625.00,167.06 625.50,167.13 626.00,167.19 626.50,167.25 627.00,167.31 627.50,167.37 628.00,167.43 628.50,167.49 629.00,167.55 629.50,167.62 630.00,167.68 630.50,167.74 631.00,167.80 631.20,167.83" stroke="#0A4BFA" stroke-width="3.10"/>
<path d="M355.00,142.22L355.50,141.81 356.00,141.40 356.50,141.00 357.00,140.59 357.50,140.18 358.00,139.78 358.50,139.37 359.00,138.97 359.50,138.56 360.00,138.16 360.50,137.76 361.00,137.36 361.50,136.97 362.00,136.57 362.50,136.18 363.00,135.79 363.50,135.40 364.00,135.01 364.50,134.63 365.00,134.25 365.50,133.87 366.00,133.49 366.50,133.12 367.00,132.75 367.50,132.38 368.00,132.02 368.50,131.66 369.00,131.31 369.50,130.95 370.00,130.61 370.50,130.26 371.00,129.93 371.50,129.59 372.00,129.26 372.50,128.94 373.00,128.62 373.50,128.30 374.00,127.99 374.50,127.69 375.00,127.39 375.50,127.10 376.00,126.81 376.50,126.53 377.00,126.25 377.50,125.98 378.00,125.72 378.50,125.46 379.00,125.21 379.50,124.97 380.00,124.73 380.50,124.50 381.00,124.28 381.50,124.07 382.00,123.86 382.50,123.66 383.00,123.47 383.50,123.28 384.00,123.10 384.50,122.94 385.00,122.78 385.50,122.62 386.00,122.48 386.50,122.35 387.00,122.22 387.50,122.10 388.00,121.99 388.50,121.89 389.00,121.79 389.50,121.70 390.00,121.62 390.50,121.55 391.00,121.48 391.50,121.42 392.00,121.37 392.50,121.32 393.00,121.28 393.50,121.25 394.00,121.22 394.50,121.19 395.00,121.17 395.50,121.16 396.00,121.15 396.50,121.15 397.00,121.15 397.50,121.15 398.00,121.16 398.50,121.17 399.00,121.19 399.50,121.21 400.00,121.24 400.50,121.26 401.00,121.30 401.50,121.33 402.00,121.37 402.50,121.40 403.00,121.45 403.50,121.49 404.00,121.54 404.50,121.58 405.00,121.63 405.50,121.68 406.00,121.73 406.50,121.79 407.00,121.84 407.50,121.90 408.00,121.95 408.50,122.01 409.00,122.06 409.50,122.12 410.00,122.17 410.50,122.23 411.00,122.28 411.50,122.34 412.00,122.39 412.50,122.44 413.00,122.49 413.50,122.54 414.00,122.59 414.50,122.63 415.00,122.68 415.50,122.72 416.00,122.76 416.50,122.79 417.00,122.83 417.50,122.86 418.00,122.89 418.50,122.91 419.00,122.94 419.50,122.96 420.00,122.98 420.50,122.99 421.00,123.01 421.50,123.02 422.00,123.03 422.50,123.04 423.00,123.05 423.50,123.05 424.00,123.06 424.50,123.06 425.00,123.06 425.50,123.06 426.00,123.06 426.50,123.06 427.00,123.06 427.50,123.05 428.00,123.05 428.50,123.04 429.00,123.04 429.50,123.03 430.00,123.02 430.50,123.02 431.00,123.01 431.50,123.00 432.00,122.99 432.50,122.98 433.00,122.97 433.50,122.96 434.00,122.96 434.50,122.95 435.00,122.94 435.50,122.93 436.00,122.93 436.50,122.92 437.00,122.91 437.50,122.91 438.00,122.91 438.50,122.90 439.00,122.90 439.50,122.90 440.00,122.90 440.50,122.90 441.00,122.91 441.50,122.91 442.00,122.92 442.50,122.92 443.00,122.93 443.50,122.94 444.00,122.96 444.50,122.97 445.00,122.99 445.50,123.01 446.00,123.03 446.50,123.05 447.00,123.08 447.50,123.11 448.00,123.14 448.50,123.17 449.00,123.21 449.50,123.24 450.00,123.28 450.50,123.33 451.00,123.37 451.50,123.42 452.00,123.47 452.50,123.52 453.00,123.57 453.50,123.62 454.00,123.68 454.50,123.74 455.00,123.80 455.50,123.86 456.00,123.92 456.50,123.99 457.00,124.06 457.50,124.12 458.00,124.19 458.50,124.27 459.00,124.34 459.50,124.41 460.00,124.49 460.50,124.56 461.00,124.64 461.50,124.72 462.00,124.80 462.50,124.88 463.00,124.97 463.50,125.05 464.00,125.13 464.50,125.22 465.00,125.31 465.50,125.39 466.00,125.48 466.50,125.57 467.00,125.66 467.50,125.75 468.00,125.84 468.50,125.93 469.00,126.02 469.50,126.11 470.00,126.21 470.50,126.30 471.00,126.39 471.50,126.49 472.00,126.58 472.50,126.67 473.00,126.77 473.50,126.86 474.00,126.96 474.50,127.05 475.00,127.15 475.50,127.24 476.00,127.33 476.50,127.43 477.00,127.52 477.50,127.61 478.00,127.71 478.50,127.80 479.00,127.89 479.50,127.98 480.00,128.08 480.50,128.17 481.00,128.26 481.50,128.35 482.00,128.44 482.50,128.53 483.00,128.62 483.50,128.71 484.00,128.80 484.50,128.88 485.00,128.97 485.50,129.06 486.00,129.15 486.50,129.23 487.00,129.32 487.50,129.41 488.00,129.49 488.50,129.58 489.00,129.66 489.50,129.75 490.00,129.83 490.50,129.91 491.00,130.00 491.50,130.08 492.00,130.16 492.50,130.24 493.00,130.33 493.50,130.41 494.00,130.49 494.50,130.57 495.00,130.65 495.50,130.73 496.00,130.80 496.50,130.88 497.00,130.96 497.50,131.04 498.00,131.11 498.50,131.19 499.00,131.27 499.50,131.34 500.00,131.42 500.50,131.49 501.00,131.57 501.50,131.64 502.00,131.71 502.50,131.78 503.00,131.86 503.50,131.93 504.00,132.00 504.50,132.07 505.00,132.14 505.50,132.21 506.00,132.28 506.50,132.35 507.00,132.41 507.50,132.48 508.00,132.55 508.50,132.61 509.00,132.68 509.50,132.74 510.00,132.81 510.50,132.87 511.00,132.94 511.50,133.00 512.00,133.06 512.50,133.12 513.00,133.18 513.50,133.25 514.00,133.31 514.50,133.37 515.00,133.42 515.50,133.48 516.00,133.54 516.50,133.60 517.00,133.66 517.50,133.71 518.00,133.77 518.50,133.83 519.00,133.88 519.50,133.94 520.00,133.99 520.50,134.04 521.00,134.10 521.50,134.15 522.00,134.20 522.50,134.25 523.00,134.30 523.50,134.36 524.00,134.41 524.50,134.46 525.00,134.50 525.50,134.55 526.00,134.60 526.50,134.65 527.00,134.70 527.50,134.74 528.00,134.79 528.50,134.84 529.00,134.88 529.50,134.93 530.00,134.97 530.50,135.02 531.00,135.06 531.50,135.10 532.00,135.15 532.50,135.19 533.00,135.23 533.50,135.27 534.00,135.31 534.50,135.35 535.00,135.40 535.50,135.44 536.00,135.47 536.50,135.51 537.00,135.55 537.50,135.59 538.00,135.63 538.50,135.67 539.00,135.70 539.50,135.74 540.00,135.77 540.50,135.81 541.00,135.85 541.50,135.88 542.00,135.92 542.50,135.95 543.00,135.98 543.50,136.02 544.00,136.05 544.50,136.08 545.00,136.12 545.50,136.15 546.00,136.18 546.50,136.21 547.00,136.25 547.50,136.28 548.00,136.31 548.50,136.34 549.00,136.37 549.50,136.40 550.00,136.43 550.50,136.46 551.00,136.50 551.50,136.53 552.00,136.56 552.50,136.59 553.00,136.62 553.50,136.65 554.00,136.68 554.50,136.71 555.00,136.74 555.50,136.77 556.00,136.80 556.50,136.83 557.00,136.86 557.50,136.89 558.00,136.92 558.50,136.95 559.00,136.98 559.50,137.02 560.00,137.05 560.50,137.08 561.00,137.11 561.50,137.14 562.00,137.17 562.50,137.21 563.00,137.24 563.50,137.27 564.00,137.30 564.50,137.34 565.00,137.37 565.50,137.41 566.00,137.44 566.50,137.47 567.00,137.51 567.50,137.54 568.00,137.58 568.50,137.62 569.00,137.65 569.50,137.69 570.00,137.73 570.50,137.76 571.00,137.80 571.50,137.84 572.00,137.88 572.50,137.92 573.00,137.96 573.50,138.00 574.00,138.04 574.50,138.08 575.00,138.12 575.50,138.16 576.00,138.20 576.50,138.25 577.00,138.29 577.50,138.33 578.00,138.38 578.50,138.42 579.00,138.46 579.50,138.51 580.00,138.55 580.50,138.60 581.00,138.65 581.50,138.69 582.00,138.74 582.50,138.79 583.00,138.83 583.50,138.88 584.00,138.93 584.50,138.98 585.00,139.03 585.50,139.08 586.00,139.13 586.50,139.18 587.00,139.23 587.50,139.28 588.00,139.33 588.50,139.38 589.00,139.43 589.50,139.49 590.00,139.54 590.50,139.59 591.00,139.64 591.50,139.70 592.00,139.75 592.50,139.81 593.00,139.86 593.50,139.91 594.00,139.97 594.50,140.02 595.00,140.08 595.50,140.14 596.00,140.19 596.50,140.25 597.00,140.31 597.50,140.36 598.00,140.42 598.50,140.48 599.00,140.54 599.50,140.60 600.00,140.66 600.50,140.71 601.00,140.77 601.50,140.83 602.00,140.89 602.50,140.95 603.00,141.01 603.50,141.07 604.00,141.14 604.50,141.20 605.00,141.26 605.50,141.32 606.00,141.38 606.50,141.44 607.00,141.51 607.50,141.57 608.00,141.63 608.50,141.70 609.00,141.76 609.50,141.82 610.00,141.89 610.50,141.95 611.00,142.01 611.50,142.08 612.00,142.14 612.50,142.21 613.00,142.27 613.50,142.34 614.00,142.40 614.50,142.47 615.00,142.53 615.50,142.60 616.00,142.66 616.50,142.73 617.00,142.80 617.50,142.86 618.00,142.93 618.50,143.00 619.00,143.06 619.50,143.13 620.00,143.20 620.50,143.26 621.00,143.33 621.50,143.40 622.00,143.46 622.50,143.53 623.00,143.60 623.50,143.67 624.00,143.73 624.50,143.80 625.00,143.87 625.50,143.94 626.00,144.00 626.50,144.07 627.00,144.14 627.50,144.21 628.00,144.28 628.50,144.34 629.00,144.41 629.50,144.48 630.00,144.55 630.50,144.61 631.00,144.68 631.20,144.71" stroke="#FFC000" stroke-width="3.10"/>
<path d="M355.00,129.34L355.50,129.17 356.00,128.99 356.50,128.81 357.00,128.64 357.50,128.46 358.00,128.29 358.50,128.11 359.00,127.94 359.50,127.76 360.00,127.59 360.50,127.41 361.00,127.24 361.50,127.07 362.00,126.89 362.50,126.72 363.00,126.55 363.50,126.38 364.00,126.20 364.50,126.03 365.00,125.86 365.50,125.69 366.00,125.52 366.50,125.36 367.00,125.19 367.50,125.02 368.00,124.86 368.50,124.69 369.00,124.53 369.50,124.36 370.00,124.20 370.50,124.04 371.00,123.87 371.50,123.71 372.00,123.56 372.50,123.40 373.00,123.24 373.50,123.08 374.00,122.93 374.50,122.77 375.00,122.62 375.50,122.47 376.00,122.32 376.50,122.17 377.00,122.02 377.50,121.88 378.00,121.73 378.50,121.59 379.00,121.44 379.50,121.30 380.00,121.16 380.50,121.02 381.00,120.89 381.50,120.75 382.00,120.62 382.50,120.49 383.00,120.36 383.50,120.23 384.00,120.10 384.50,119.97 385.00,119.85 385.50,119.73 386.00,119.61 386.50,119.49 387.00,119.37 387.50,119.26 388.00,119.15 388.50,119.04 389.00,118.94 389.50,118.84 390.00,118.74 390.50,118.64 391.00,118.55 391.50,118.47 392.00,118.38 392.50,118.31 393.00,118.23 393.50,118.17 394.00,118.11 394.50,118.05 395.00,118.00 395.50,117.95 396.00,117.91 396.50,117.88 397.00,117.86 397.50,117.84 398.00,117.83 398.50,117.82 399.00,117.83 399.50,117.84 400.00,117.86 400.50,117.89 401.00,117.92 401.50,117.97 402.00,118.02 402.50,118.08 403.00,118.15 403.50,118.24 404.00,118.33 404.50,118.43 405.00,118.54 405.50,118.66 406.00,118.80 406.50,118.94 407.00,119.09 407.50,119.26 408.00,119.44 408.50,119.63 409.00,119.83 409.50,120.04 410.00,120.27 410.50,120.51 411.00,120.76 411.50,121.03 412.00,121.31 412.50,121.60 413.00,121.91 413.50,122.23 414.00,122.56 414.50,122.91 415.00,123.27 415.50,123.65 416.00,124.05 416.50,124.46 417.00,124.88 417.50,125.32 418.00,125.77 418.50,126.24 419.00,126.72 419.50,127.22 420.00,127.73 420.50,128.25 421.00,128.78 421.50,129.32 422.00,129.87 422.50,130.44 423.00,131.01 423.50,131.59 424.00,132.18 424.50,132.78 425.00,133.38 425.50,134.00 426.00,134.62 426.50,135.24 427.00,135.88 427.50,136.51 428.00,137.16 428.50,137.80 429.00,138.45 429.50,139.11 430.00,139.76 430.50,140.42 431.00,141.08 431.50,141.75 432.00,142.41 432.50,143.07 433.00,143.74 433.50,144.40 434.00,145.06 434.50,145.72 435.00,146.38 435.50,147.04 436.00,147.69 436.50,148.34 437.00,148.99 437.50,149.63 438.00,150.26 438.50,150.90 439.00,151.52 439.50,152.14 440.00,152.75 440.50,153.36 441.00,153.95 441.50,154.54 442.00,155.12 442.50,155.69 443.00,156.25 443.50,156.80 444.00,157.34 444.50,157.87 445.00,158.39 445.50,158.89 446.00,159.39 446.50,159.87 447.00,160.33 447.50,160.78 448.00,161.22 448.50,161.64 449.00,162.05 449.50,162.45 450.00,162.84 450.50,163.21 451.00,163.57 451.50,163.92 452.00,164.26 452.50,164.58 453.00,164.90 453.50,165.21 454.00,165.50 454.50,165.79 455.00,166.06 455.50,166.33 456.00,166.59 456.50,166.84 457.00,167.08 457.50,167.32 458.00,167.54 458.50,167.76 459.00,167.97 459.50,168.18 460.00,168.38 460.50,168.57 461.00,168.76 461.50,168.94 462.00,169.12 462.50,169.30 463.00,169.46 463.50,169.63 464.00,169.79 464.50,169.95 465.00,170.10 465.50,170.25 466.00,170.40 466.50,170.55 467.00,170.70 467.50,170.84 468.00,170.99 468.50,171.13 469.00,171.27 469.50,171.41 470.00,171.55 470.50,171.70 471.00,171.84 471.50,171.98 472.00,172.13 472.50,172.27 473.00,172.42 473.50,172.58 474.00,172.73 474.50,172.89 475.00,173.05 475.50,173.21 476.00,173.38 476.50,173.55 477.00,173.73 477.50,173.91 478.00,174.10 478.50,174.29 479.00,174.49 479.50,174.69 480.00,174.90 480.50,175.11 481.00,175.33 481.50,175.55 482.00,175.78 482.50,176.01 483.00,176.24 483.50,176.48 484.00,176.72 484.50,176.96 485.00,177.21 485.50,177.46 486.00,177.71 486.50,177.96 487.00,178.22 487.50,178.48 488.00,178.74 488.50,179.00 489.00,179.27 489.50,179.54 490.00,179.81 490.50,180.08 491.00,180.35 491.50,180.62 492.00,180.89 492.50,181.16 493.00,181.44 493.50,181.71 494.00,181.99 494.50,182.26 495.00,182.53 495.50,182.81 496.00,183.08 496.50,183.35 497.00,183.62 497.50,183.89 498.00,184.16 498.50,184.43 499.00,184.69 499.50,184.96 500.00,185.22 500.50,185.48 501.00,185.74 501.50,185.99 502.00,186.24 502.50,186.49 503.00,186.74 503.50,186.98 504.00,187.22 504.50,187.46 505.00,187.69 505.50,187.92 506.00,188.15 506.50,188.37 507.00,188.59 507.50,188.80 508.00,189.01 508.50,189.21 509.00,189.41 509.50,189.60 510.00,189.79 510.50,189.98 511.00,190.16 511.50,190.33 512.00,190.50 512.50,190.67 513.00,190.83 513.50,190.99 514.00,191.14 514.50,191.29 515.00,191.44 515.50,191.58 516.00,191.72 516.50,191.86 517.00,191.99 517.50,192.12 518.00,192.25 518.50,192.37 519.00,192.49 519.50,192.60 520.00,192.72 520.50,192.83 521.00,192.94 521.50,193.04 522.00,193.15 522.50,193.25 523.00,193.35 523.50,193.45 524.00,193.54 524.50,193.63 525.00,193.72 525.50,193.81 526.00,193.90 526.50,193.99 527.00,194.07 527.50,194.15 528.00,194.24 528.50,194.32 529.00,194.40 529.50,194.47 530.00,194.55 530.50,194.63 531.00,194.70 531.50,194.78 532.00,194.85 532.50,194.93 533.00,195.00 533.50,195.08 534.00,195.15 534.50,195.22 535.00,195.30 535.50,195.37 536.00,195.45 536.50,195.52 537.00,195.60 537.50,195.67 538.00,195.75 538.50,195.82 539.00,195.90 539.50,195.98 540.00,196.06 540.50,196.14 541.00,196.22 541.50,196.30 542.00,196.39 542.50,196.47 543.00,196.56 543.50,196.64 544.00,196.73 544.50,196.82 545.00,196.90 545.50,196.99 546.00,197.08 546.50,197.17 547.00,197.27 547.50,197.36 548.00,197.45 548.50,197.55 549.00,197.64 549.50,197.74 550.00,197.83 550.50,197.93 551.00,198.03 551.50,198.13 552.00,198.23 552.50,198.33 553.00,198.43 553.50,198.53 554.00,198.63 554.50,198.73 555.00,198.84 555.50,198.94 556.00,199.05 556.50,199.15 557.00,199.26 557.50,199.37 558.00,199.47 558.50,199.58 559.00,199.69 559.50,199.80 560.00,199.91 560.50,200.02 561.00,200.13 561.50,200.24 562.00,200.36 562.50,200.47 563.00,200.58 563.50,200.70 564.00,200.81 564.50,200.93 565.00,201.04 565.50,201.16 566.00,201.27 566.50,201.39 567.00,201.51 567.50,201.63 568.00,201.74 568.50,201.86 569.00,201.98 569.50,202.10 570.00,202.22 570.50,202.34 571.00,202.46 571.50,202.59 572.00,202.71 572.50,202.83 573.00,202.95 573.50,203.07 574.00,203.20 574.50,203.32 575.00,203.44 575.50,203.56 576.00,203.69 576.50,203.81 577.00,203.93 577.50,204.06 578.00,204.18 578.50,204.30 579.00,204.43 579.50,204.55 580.00,204.67 580.50,204.79 581.00,204.91 581.50,205.04 582.00,205.16 582.50,205.28 583.00,205.40 583.50,205.52 584.00,205.64 584.50,205.76 585.00,205.88 585.50,206.00 586.00,206.11 586.50,206.23 587.00,206.35 587.50,206.46 588.00,206.58 588.50,206.69 589.00,206.81 589.50,206.92 590.00,207.03 590.50,207.14 591.00,207.25 591.50,207.36 592.00,207.47 592.50,207.58 593.00,207.69 593.50,207.79 594.00,207.90 594.50,208.00 595.00,208.10 595.50,208.20 596.00,208.30 596.50,208.40 597.00,208.50 597.50,208.59 598.00,208.69 598.50,208.78 599.00,208.87 599.50,208.97 600.00,209.05 600.50,209.14 601.00,209.23 601.50,209.31 602.00,209.40 602.50,209.48 603.00,209.56 603.50,209.64 604.00,209.72 604.50,209.79 605.00,209.87 605.50,209.94 606.00,210.01 606.50,210.09 607.00,210.16 607.50,210.22 608.00,210.29 608.50,210.36 609.00,210.42 609.50,210.49 610.00,210.55 610.50,210.61 611.00,210.68 611.50,210.74 612.00,210.80 612.50,210.85 613.00,210.91 613.50,210.97 614.00,211.02 614.50,211.08 615.00,211.13 615.50,211.19 616.00,211.24 616.50,211.29 617.00,211.34 617.50,211.39 618.00,211.44 618.50,211.49 619.00,211.54 619.50,211.59 620.00,211.63 620.50,211.68 621.00,211.73 621.50,211.77 622.00,211.82 622.50,211.86 623.00,211.91 623.50,211.95 624.00,211.99 624.50,212.04 625.00,212.08 625.50,212.12 626.00,212.17 626.50,212.21 627.00,212.25 627.50,212.29 628.00,212.33 628.50,212.37 629.00,212.41 629.50,212.46 630.00,212.50 630.50,212.54 631.00,212.58 631.20,212.59" stroke="#05D0F5" stroke-width="3.10"/>
<path d="M355.00,128.64L355.50,128.35 356.00,128.06 356.50,127.76 357.00,127.47 357.50,127.18 358.00,126.89 358.50,126.60 359.00,126.31 359.50,126.02 360.00,125.74 360.50,125.45 361.00,125.17 361.50,124.88 362.00,124.60 362.50,124.32 363.00,124.04 363.50,123.77 364.00,123.49 364.50,123.22 365.00,122.95 365.50,122.68 366.00,122.41 366.50,122.15 367.00,121.89 367.50,121.63 368.00,121.37 368.50,121.12 369.00,120.87 369.50,120.62 370.00,120.38 370.50,120.14 371.00,119.90 371.50,119.67 372.00,119.44 372.50,119.21 373.00,118.99 373.50,118.77 374.00,118.56 374.50,118.35 375.00,118.14 375.50,117.94 376.00,117.75 376.50,117.55 377.00,117.37 377.50,117.19 378.00,117.01 378.50,116.84 379.00,116.67 379.50,116.51 380.00,116.35 380.50,116.20 381.00,116.06 381.50,115.92 382.00,115.79 382.50,115.66 383.00,115.54 383.50,115.43 384.00,115.32 384.50,115.22 385.00,115.12 385.50,115.03 386.00,114.95 386.50,114.88 387.00,114.81 387.50,114.75 388.00,114.69 388.50,114.65 389.00,114.61 389.50,114.57 390.00,114.55 390.50,114.53 391.00,114.51 391.50,114.51 392.00,114.51 392.50,114.52 393.00,114.53 393.50,114.55 394.00,114.58 394.50,114.62 395.00,114.66 395.50,114.71 396.00,114.77 396.50,114.83 397.00,114.91 397.50,114.98 398.00,115.07 398.50,115.16 399.00,115.26 399.50,115.37 400.00,115.48 400.50,115.60 401.00,115.73 401.50,115.87 402.00,116.01 402.50,116.16 403.00,116.31 403.50,116.48 404.00,116.65 404.50,116.83 405.00,117.01 405.50,117.20 406.00,117.40 406.50,117.61 407.00,117.82 407.50,118.05 408.00,118.27 408.50,118.51 409.00,118.75 409.50,119.00 410.00,119.26 410.50,119.53 411.00,119.80 411.50,120.08 412.00,120.37 412.50,120.66 413.00,120.96 413.50,121.27 414.00,121.59 414.50,121.91 415.00,122.24 415.50,122.58 416.00,122.93 416.50,123.28 417.00,123.64 417.50,124.01 418.00,124.38 418.50,124.77 419.00,125.15 419.50,125.55 420.00,125.95 420.50,126.35 421.00,126.76 421.50,127.18 422.00,127.60 422.50,128.02 423.00,128.45 423.50,128.88 424.00,129.32 424.50,129.76 425.00,130.20 425.50,130.64 426.00,131.09 426.50,131.54 427.00,131.99 427.50,132.45 428.00,132.90 428.50,133.36 429.00,133.82 429.50,134.28 430.00,134.73 430.50,135.19 431.00,135.65 431.50,136.11 432.00,136.57 432.50,137.03 433.00,137.48 433.50,137.94 434.00,138.39 434.50,138.84 435.00,139.29 435.50,139.73 436.00,140.18 436.50,140.62 437.00,141.05 437.50,141.49 438.00,141.92 438.50,142.34 439.00,142.76 439.50,143.18 440.00,143.59 440.50,144.00 441.00,144.40 441.50,144.80 442.00,145.18 442.50,145.57 443.00,145.94 443.50,146.31 444.00,146.68 444.50,147.03 445.00,147.38 445.50,147.72 446.00,148.05 446.50,148.38 447.00,148.69 447.50,149.00 448.00,149.30 448.50,149.59 449.00,149.87 449.50,150.14 450.00,150.40 450.50,150.66 451.00,150.91 451.50,151.15 452.00,151.39 452.50,151.62 453.00,151.84 453.50,152.05 454.00,152.26 454.50,152.46 455.00,152.66 455.50,152.85 456.00,153.04 456.50,153.22 457.00,153.39 457.50,153.56 458.00,153.73 458.50,153.89 459.00,154.04 459.50,154.19 460.00,154.34 460.50,154.49 461.00,154.63 461.50,154.77 462.00,154.90 462.50,155.03 463.00,155.16 463.50,155.29 464.00,155.41 464.50,155.54 465.00,155.66 465.50,155.78 466.00,155.89 466.50,156.01 467.00,156.12 467.50,156.24 468.00,156.35 468.50,156.46 469.00,156.58 469.50,156.69 470.00,156.80 470.50,156.92 471.00,157.03 471.50,157.14 472.00,157.26 472.50,157.38 473.00,157.49 473.50,157.61 474.00,157.73 474.50,157.86 475.00,157.98 475.50,158.11 476.00,158.24 476.50,158.37 477.00,158.51 477.50,158.65 478.00,158.79 478.50,158.94 479.00,159.09 479.50,159.24 480.00,159.39 480.50,159.55 481.00,159.71 481.50,159.88 482.00,160.04 482.50,160.21 483.00,160.39 483.50,160.56 484.00,160.74 484.50,160.92 485.00,161.10 485.50,161.28 486.00,161.46 486.50,161.65 487.00,161.84 487.50,162.03 488.00,162.22 488.50,162.41 489.00,162.60 489.50,162.80 490.00,162.99 490.50,163.19 491.00,163.39 491.50,163.59 492.00,163.79 492.50,163.98 493.00,164.18 493.50,164.38 494.00,164.58 494.50,164.78 495.00,164.98 495.50,165.18 496.00,165.38 496.50,165.58 497.00,165.78 497.50,165.98 498.00,166.18 498.50,166.37 499.00,166.57 499.50,166.77 500.00,166.96 500.50,167.15 501.00,167.34 501.50,167.53 502.00,167.72 502.50,167.91 503.00,168.10 503.50,168.28 504.00,168.46 504.50,168.64 505.00,168.82 505.50,168.99 506.00,169.17 506.50,169.34 507.00,169.50 507.50,169.67 508.00,169.83 508.50,169.99 509.00,170.15 509.50,170.30 510.00,170.45 510.50,170.60 511.00,170.75 511.50,170.89 512.00,171.03 512.50,171.17 513.00,171.30 513.50,171.44 514.00,171.57 514.50,171.69 515.00,171.82 515.50,171.94 516.00,172.06 516.50,172.18 517.00,172.30 517.50,172.41 518.00,172.53 518.50,172.64 519.00,172.75 519.50,172.85 520.00,172.96 520.50,173.06 521.00,173.16 521.50,173.26 522.00,173.36 522.50,173.46 523.00,173.55 523.50,173.64 524.00,173.74 524.50,173.83 525.00,173.92 525.50,174.00 526.00,174.09 526.50,174.18 527.00,174.26 527.50,174.34 528.00,174.43 528.50,174.51 529.00,174.59 529.50,174.67 530.00,174.75 530.50,174.83 531.00,174.90 531.50,174.98 532.00,175.05 532.50,175.13 533.00,175.21 533.50,175.28 534.00,175.35 534.50,175.43 535.00,175.50 535.50,175.57 536.00,175.65 536.50,175.72 537.00,175.79 537.50,175.86 538.00,175.93 538.50,176.01 539.00,176.08 539.50,176.15 540.00,176.22 540.50,176.30 541.00,176.37 541.50,176.44 542.00,176.52 542.50,176.59 543.00,176.66 543.50,176.74 544.00,176.81 544.50,176.88 545.00,176.96 545.50,177.03 546.00,177.10 546.50,177.18 547.00,177.25 547.50,177.33 548.00,177.40 548.50,177.48 549.00,177.55 549.50,177.62 550.00,177.70 550.50,177.77 551.00,177.85 551.50,177.92 552.00,178.00 552.50,178.07 553.00,178.15 553.50,178.22 554.00,178.30 554.50,178.37 555.00,178.45 555.50,178.52 556.00,178.60 556.50,178.67 557.00,178.75 557.50,178.82 558.00,178.90 558.50,178.97 559.00,179.05 559.50,179.12 560.00,179.20 560.50,179.27 561.00,179.35 561.50,179.42 562.00,179.50 562.50,179.57 563.00,179.64 563.50,179.72 564.00,179.79 564.50,179.87 565.00,179.94 565.50,180.02 566.00,180.09 566.50,180.17 567.00,180.24 567.50,180.32 568.00,180.39 568.50,180.46 569.00,180.54 569.50,180.61 570.00,180.69 570.50,180.76 571.00,180.83 571.50,180.91 572.00,180.98 572.50,181.05 573.00,181.13 573.50,181.20 574.00,181.27 574.50,181.35 575.00,181.42 575.50,181.49 576.00,181.57 576.50,181.64 577.00,181.71 577.50,181.79 578.00,181.86 578.50,181.93 579.00,182.00 579.50,182.08 580.00,182.15 580.50,182.22 581.00,182.29 581.50,182.36 582.00,182.44 582.50,182.51 583.00,182.58 583.50,182.65 584.00,182.72 584.50,182.80 585.00,182.87 585.50,182.94 586.00,183.01 586.50,183.08 587.00,183.15 587.50,183.22 588.00,183.29 588.50,183.37 589.00,183.44 589.50,183.51 590.00,183.58 590.50,183.65 591.00,183.72 591.50,183.79 592.00,183.86 592.50,183.93 593.00,184.00 593.50,184.07 594.00,184.14 594.50,184.21 595.00,184.28 595.50,184.35 596.00,184.42 596.50,184.49 597.00,184.56 597.50,184.63 598.00,184.70 598.50,184.77 599.00,184.84 599.50,184.91 600.00,184.98 600.50,185.05 601.00,185.12 601.50,185.19 602.00,185.26 602.50,185.33 603.00,185.40 603.50,185.46 604.00,185.53 604.50,185.60 605.00,185.67 605.50,185.74 606.00,185.81 606.50,185.88 607.00,185.95 607.50,186.02 608.00,186.08 608.50,186.15 609.00,186.22 609.50,186.29 610.00,186.36 610.50,186.43 611.00,186.50 611.50,186.56 612.00,186.63 612.50,186.70 613.00,186.77 613.50,186.84 614.00,186.90 614.50,186.97 615.00,187.04 615.50,187.11 616.00,187.18 616.50,187.24 617.00,187.31 617.50,187.38 618.00,187.45 618.50,187.52 619.00,187.58 619.50,187.65 620.00,187.72 620.50,187.79 621.00,187.85 621.50,187.92 622.00,187.99 622.50,188.06 623.00,188.13 623.50,188.19 624.00,188.26 624.50,188.33 625.00,188.40 625.50,188.46 626.00,188.53 626.50,188.60 627.00,188.67 627.50,188.73 628.00,188.80 628.50,188.87 629.00,188.94 629.50,189.00 630.00,189.07 630.50,189.14 631.00,189.21 631.20,189.23" stroke="#FA0505" stroke-width="3.10"/>
</g>
<g font-size="10.6">
<text transform="translate(31.80,253.30) scale(0.92,1.10)" text-anchor="end">55</text>
<text transform="translate(31.80,233.05) scale(0.92,1.10)" text-anchor="end">60</text>
<text transform="translate(31.80,212.79) scale(0.92,1.10)" text-anchor="end">65</text>
<text transform="translate(31.80,192.54) scale(0.92,1.10)" text-anchor="end">70</text>
<text transform="translate(31.80,172.28) scale(0.92,1.10)" text-anchor="end">75</text>
<text transform="translate(31.80,152.03) scale(0.92,1.10)" text-anchor="end">80</text>
<text transform="translate(31.80,131.77) scale(0.92,1.10)" text-anchor="end">85</text>
<text transform="translate(31.80,111.52) scale(0.92,1.10)" text-anchor="end">90</text>
<text transform="translate(31.80,91.26) scale(0.92,1.10)" text-anchor="end">95</text>
<text transform="translate(31.80,71.01) scale(0.92,1.10)" text-anchor="end">100</text>
<text transform="translate(31.80,50.75) scale(0.92,1.10)" text-anchor="end">105</text>
<text transform="translate(31.80,30.50) scale(0.92,1.10)" text-anchor="end">110</text>
<text transform="translate(35.80,262.10) scale(0.92,1.10)" text-anchor="middle">1</text>
<text transform="translate(66.47,262.10) scale(0.92,1.10)" text-anchor="middle">2</text>
<text transform="translate(97.13,262.10) scale(0.92,1.10)" text-anchor="middle">3</text>
<text transform="translate(127.80,262.10) scale(0.92,1.10)" text-anchor="middle">4</text>
<text transform="translate(158.47,262.10) scale(0.92,1.10)" text-anchor="middle">5</text>
<text transform="translate(189.13,262.10) scale(0.92,1.10)" text-anchor="middle">6</text>
<text transform="translate(219.80,262.10) scale(0.92,1.10)" text-anchor="middle">7</text>
<text transform="translate(250.47,262.10) scale(0.92,1.10)" text-anchor="middle">8</text>
<text transform="translate(281.13,262.10) scale(0.92,1.10)" text-anchor="middle">9</text>
<text transform="translate(311.80,262.10) scale(0.92,1.10)" text-anchor="middle">10</text>
<text transform="translate(351.00,254.20) scale(0.92,1.10)" text-anchor="end">80</text>
<text transform="translate(351.00,222.31) scale(0.92,1.10)" text-anchor="end">85</text>
<text transform="translate(351.00,190.43) scale(0.92,1.10)" text-anchor="end">90</text>
<text transform="translate(351.00,158.54) scale(0.92,1.10)" text-anchor="end">95</text>
<text transform="translate(351.00,126.66) scale(0.92,1.10)" text-anchor="end">100</text>
<text transform="translate(351.00,94.77) scale(0.92,1.10)" text-anchor="end">105</text>
<text transform="translate(351.00,62.89) scale(0.92,1.10)" text-anchor="end">110</text>
<text transform="translate(351.00,31.00) scale(0.92,1.10)" text-anchor="end">115</text>
<text transform="translate(355.00,263.00) scale(0.92,1.10)" text-anchor="middle">1</text>
<text transform="translate(385.69,263.00) scale(0.92,1.10)" text-anchor="middle">2</text>
<text transform="translate(416.38,263.00) scale(0.92,1.10)" text-anchor="middle">3</text>
<text transform="translate(447.07,263.00) scale(0.92,1.10)" text-anchor="middle">4</text>
<text transform="translate(477.76,263.00) scale(0.92,1.10)" text-anchor="middle">5</text>
<text transform="translate(508.44,263.00) scale(0.92,1.10)" text-anchor="middle">6</text>
<text transform="translate(539.13,263.00) scale(0.92,1.10)" text-anchor="middle">7</text>
<text transform="translate(569.82,263.00) scale(0.92,1.10)" text-anchor="middle">8</text>
<text transform="translate(600.51,263.00) scale(0.92,1.10)" text-anchor="middle">9</text>
<text transform="translate(631.20,263.00) scale(0.92,1.10)" text-anchor="middle">10</text>
</g>
<text transform="translate(173.80,280.8) scale(1,1.05)" font-size="12.6" text-anchor="middle">Number of cycles</text>
<text transform="translate(493.10,280.8) scale(1,1.05)" font-size="12.6" text-anchor="middle">Number of cycles</text>
<text transform="translate(12.4,184.2) rotate(-90) scale(1,1.05)" font-size="13.2">Capacity/mAh&#183;g<tspan font-size="8.5" dy="-5.5">-1</tspan></text>
<text transform="translate(331.9,196.2) rotate(-90) scale(1,1.05)" font-size="12.9">Cycle retention rate/%</text>
<text x="33.6" y="14.3" font-size="20">(a)</text>
<text x="356.8" y="14.8" font-size="20">(b)</text>
<path d="M238.3,33.00h3.9M249.5,33.00h3.9" stroke="#05D0F5" stroke-width="2.8" stroke-linecap="round"/>
<text x="256.6" y="35.60" font-size="7.3" font-weight="bold" stroke="#1a1a1a" stroke-width="0.25">0&#176;C,charge</text>
<path d="M238.3,42.50h3.9M249.5,42.50h3.9" stroke="#FA0505" stroke-width="2.8" stroke-linecap="round"/>
<text x="256.6" y="45.10" font-size="7.3" font-weight="bold" stroke="#1a1a1a" stroke-width="0.25">20&#176;C,charge</text>
<path d="M238.3,51.90h3.9M249.5,51.90h3.9" stroke="#0A4BFA" stroke-width="2.8" stroke-linecap="round"/>
<text x="256.6" y="54.50" font-size="7.3" font-weight="bold" stroke="#1a1a1a" stroke-width="0.25">40&#176;C,charge</text>
<path d="M238.3,61.30h3.9M249.5,61.30h3.9" stroke="#FFC000" stroke-width="2.8" stroke-linecap="round"/>
<text x="256.6" y="63.90" font-size="7.3" font-weight="bold" stroke="#1a1a1a" stroke-width="0.25">60&#176;C,charge</text>
<path d="M238.3,70.60H254.4" stroke="#05D0F5" stroke-width="2.8" stroke-linecap="round"/>
<text x="256.6" y="73.20" font-size="7.3" font-weight="bold" stroke="#1a1a1a" stroke-width="0.25">0&#176;C,discharge</text>
<path d="M238.3,80.10H254.4" stroke="#FA0505" stroke-width="2.8" stroke-linecap="round"/>
<text x="256.6" y="82.70" font-size="7.3" font-weight="bold" stroke="#1a1a1a" stroke-width="0.25">20&#176;C,discharge</text>
<path d="M238.3,89.60H254.4" stroke="#0A4BFA" stroke-width="2.8" stroke-linecap="round"/>
<text x="256.6" y="92.20" font-size="7.3" font-weight="bold" stroke="#1a1a1a" stroke-width="0.25">40&#176;C,discharge</text>
<path d="M238.3,99.10H254.4" stroke="#FFC000" stroke-width="2.8" stroke-linecap="round"/>
<text x="256.6" y="101.70" font-size="7.3" font-weight="bold" stroke="#1a1a1a" stroke-width="0.25">60&#176;C,discharge</text>
<path d="M570.5,35.70H587" stroke="#05D0F5" stroke-width="3" stroke-linecap="round"/>
<text x="588.8" y="38.30" font-size="7.2" font-weight="bold" stroke="#1a1a1a" stroke-width="0.25">0&#176;C,15KN</text>
<path d="M570.5,45.00H587" stroke="#FA0505" stroke-width="3" stroke-linecap="round"/>
<text x="588.8" y="47.60" font-size="7.2" font-weight="bold" stroke="#1a1a1a" stroke-width="0.25">20&#176;C,15KN</text>
<path d="M570.5,54.20H587" stroke="#0A4BFA" stroke-width="3" stroke-linecap="round"/>
<text x="588.8" y="56.80" font-size="7.2" font-weight="bold" stroke="#1a1a1a" stroke-width="0.25">40&#176;C,15KN</text>
<path d="M570.5,63.40H587" stroke="#FFC000" stroke-width="3" stroke-linecap="round"/>
<text x="588.8" y="66.00" font-size="7.2" font-weight="bold" stroke="#1a1a1a" stroke-width="0.25">60&#176;C,15KN</text>
</svg></body></html>
